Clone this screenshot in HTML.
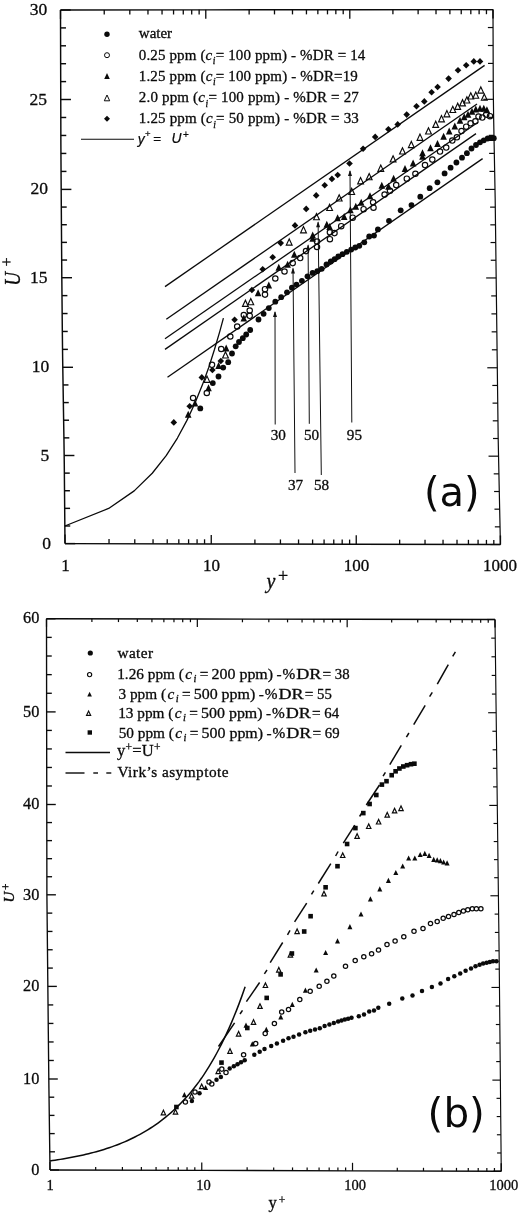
<!DOCTYPE html>
<html lang="en"><head><meta charset="utf-8"><title>Velocity profiles</title>
<style>html,body{margin:0;padding:0;background:#fff}svg{display:block}</style></head>
<body>
<svg width="520" height="1213" viewBox="0 0 520 1213" role="img" aria-label="Mean velocity profiles in wall units">
<rect width="520" height="1213" fill="#fff"/>
<polyline points="65.00,543.60 64.76,517.17 64.52,490.74 64.28,464.31 63.92,437.86 63.49,411.40 63.07,384.94 62.64,358.34 62.33,331.46 62.07,304.58 61.82,277.70 61.62,251.21 61.43,224.72 61.24,198.23 61.05,171.42 60.88,144.45 60.81,117.48 60.73,90.55 60.65,63.70 60.58,36.85 60.50,10.00" fill="none" stroke="#0a0a0a" stroke-width="1.45" stroke-linejoin="round" />
<polyline points="500.41,544.50 499.85,518.01 499.29,491.51 498.73,465.01 498.18,438.50 497.85,411.97 497.52,385.45 497.18,358.79 496.85,331.84 496.51,304.89 496.17,277.95 495.84,251.39 495.51,224.84 495.17,198.29 494.66,171.41 494.14,144.38 493.63,117.34 493.27,90.34 493.18,63.43 493.09,36.52 493.00,9.60" fill="none" stroke="#0a0a0a" stroke-width="1.2" stroke-linejoin="round" />
<polyline points="65.00,543.60 211.25,543.90 356.24,544.20 500.41,544.50" fill="none" stroke="#0a0a0a" stroke-width="1.45" stroke-linejoin="round" />
<polyline points="60.50,10.00 205.78,9.87 349.80,9.73 493.00,9.60" fill="none" stroke="#0a0a0a" stroke-width="1.45" stroke-linejoin="round" />
<line x1="65.00" y1="543.60" x2="75.20" y2="543.60" stroke="#0a0a0a" stroke-width="1.45" />
<line x1="500.41" y1="544.50" x2="490.41" y2="544.50" stroke="#0a0a0a" stroke-width="1.2" />
<line x1="64.84" y1="525.98" x2="70.24" y2="525.98" stroke="#0a0a0a" stroke-width="1.45" />
<line x1="500.04" y1="526.84" x2="494.84" y2="526.84" stroke="#0a0a0a" stroke-width="1.2" />
<line x1="64.68" y1="508.36" x2="70.08" y2="508.36" stroke="#0a0a0a" stroke-width="1.45" />
<line x1="499.66" y1="509.17" x2="494.46" y2="509.17" stroke="#0a0a0a" stroke-width="1.2" />
<line x1="64.52" y1="490.74" x2="69.92" y2="490.74" stroke="#0a0a0a" stroke-width="1.45" />
<line x1="499.29" y1="491.51" x2="494.09" y2="491.51" stroke="#0a0a0a" stroke-width="1.2" />
<line x1="64.36" y1="473.12" x2="69.76" y2="473.12" stroke="#0a0a0a" stroke-width="1.45" />
<line x1="498.92" y1="473.85" x2="493.72" y2="473.85" stroke="#0a0a0a" stroke-width="1.2" />
<line x1="64.20" y1="455.50" x2="74.40" y2="455.50" stroke="#0a0a0a" stroke-width="1.45" />
<line x1="498.54" y1="456.18" x2="488.54" y2="456.18" stroke="#0a0a0a" stroke-width="1.2" />
<line x1="63.92" y1="437.86" x2="69.32" y2="437.86" stroke="#0a0a0a" stroke-width="1.45" />
<line x1="498.18" y1="438.50" x2="492.98" y2="438.50" stroke="#0a0a0a" stroke-width="1.2" />
<line x1="63.64" y1="420.22" x2="69.04" y2="420.22" stroke="#0a0a0a" stroke-width="1.45" />
<line x1="497.96" y1="420.82" x2="492.76" y2="420.82" stroke="#0a0a0a" stroke-width="1.2" />
<line x1="63.35" y1="402.58" x2="68.75" y2="402.58" stroke="#0a0a0a" stroke-width="1.45" />
<line x1="497.74" y1="403.13" x2="492.54" y2="403.13" stroke="#0a0a0a" stroke-width="1.2" />
<line x1="63.07" y1="384.94" x2="68.47" y2="384.94" stroke="#0a0a0a" stroke-width="1.45" />
<line x1="497.52" y1="385.45" x2="492.32" y2="385.45" stroke="#0a0a0a" stroke-width="1.2" />
<line x1="62.78" y1="367.30" x2="72.98" y2="367.30" stroke="#0a0a0a" stroke-width="1.45" />
<line x1="497.30" y1="367.77" x2="487.30" y2="367.77" stroke="#0a0a0a" stroke-width="1.2" />
<line x1="62.49" y1="349.38" x2="67.89" y2="349.38" stroke="#0a0a0a" stroke-width="1.45" />
<line x1="497.07" y1="349.80" x2="491.87" y2="349.80" stroke="#0a0a0a" stroke-width="1.2" />
<line x1="62.33" y1="331.46" x2="67.73" y2="331.46" stroke="#0a0a0a" stroke-width="1.45" />
<line x1="496.85" y1="331.84" x2="491.65" y2="331.84" stroke="#0a0a0a" stroke-width="1.2" />
<line x1="62.16" y1="313.54" x2="67.56" y2="313.54" stroke="#0a0a0a" stroke-width="1.45" />
<line x1="496.62" y1="313.88" x2="491.42" y2="313.88" stroke="#0a0a0a" stroke-width="1.2" />
<line x1="61.99" y1="295.62" x2="67.39" y2="295.62" stroke="#0a0a0a" stroke-width="1.45" />
<line x1="496.40" y1="295.91" x2="491.20" y2="295.91" stroke="#0a0a0a" stroke-width="1.2" />
<line x1="61.82" y1="277.70" x2="72.02" y2="277.70" stroke="#0a0a0a" stroke-width="1.45" />
<line x1="496.17" y1="277.95" x2="486.17" y2="277.95" stroke="#0a0a0a" stroke-width="1.2" />
<line x1="61.68" y1="260.04" x2="67.08" y2="260.04" stroke="#0a0a0a" stroke-width="1.45" />
<line x1="495.95" y1="260.25" x2="490.75" y2="260.25" stroke="#0a0a0a" stroke-width="1.2" />
<line x1="61.55" y1="242.38" x2="66.95" y2="242.38" stroke="#0a0a0a" stroke-width="1.45" />
<line x1="495.73" y1="242.54" x2="490.53" y2="242.54" stroke="#0a0a0a" stroke-width="1.2" />
<line x1="61.43" y1="224.72" x2="66.83" y2="224.72" stroke="#0a0a0a" stroke-width="1.45" />
<line x1="495.51" y1="224.84" x2="490.31" y2="224.84" stroke="#0a0a0a" stroke-width="1.2" />
<line x1="61.30" y1="207.06" x2="66.70" y2="207.06" stroke="#0a0a0a" stroke-width="1.45" />
<line x1="495.29" y1="207.14" x2="490.09" y2="207.14" stroke="#0a0a0a" stroke-width="1.2" />
<line x1="61.18" y1="189.40" x2="71.38" y2="189.40" stroke="#0a0a0a" stroke-width="1.45" />
<line x1="495.00" y1="189.43" x2="485.00" y2="189.43" stroke="#0a0a0a" stroke-width="1.2" />
<line x1="61.05" y1="171.42" x2="66.45" y2="171.42" stroke="#0a0a0a" stroke-width="1.45" />
<line x1="494.66" y1="171.41" x2="489.46" y2="171.41" stroke="#0a0a0a" stroke-width="1.2" />
<line x1="60.92" y1="153.44" x2="66.32" y2="153.44" stroke="#0a0a0a" stroke-width="1.45" />
<line x1="494.31" y1="153.39" x2="489.11" y2="153.39" stroke="#0a0a0a" stroke-width="1.2" />
<line x1="60.86" y1="135.46" x2="66.26" y2="135.46" stroke="#0a0a0a" stroke-width="1.45" />
<line x1="493.97" y1="135.36" x2="488.77" y2="135.36" stroke="#0a0a0a" stroke-width="1.2" />
<line x1="60.81" y1="117.48" x2="66.21" y2="117.48" stroke="#0a0a0a" stroke-width="1.45" />
<line x1="493.63" y1="117.34" x2="488.43" y2="117.34" stroke="#0a0a0a" stroke-width="1.2" />
<line x1="60.76" y1="99.50" x2="70.96" y2="99.50" stroke="#0a0a0a" stroke-width="1.45" />
<line x1="493.30" y1="99.32" x2="483.30" y2="99.32" stroke="#0a0a0a" stroke-width="1.2" />
<line x1="60.70" y1="81.60" x2="66.10" y2="81.60" stroke="#0a0a0a" stroke-width="1.45" />
<line x1="493.24" y1="81.37" x2="488.04" y2="81.37" stroke="#0a0a0a" stroke-width="1.2" />
<line x1="60.65" y1="63.70" x2="66.05" y2="63.70" stroke="#0a0a0a" stroke-width="1.45" />
<line x1="493.18" y1="63.43" x2="487.98" y2="63.43" stroke="#0a0a0a" stroke-width="1.2" />
<line x1="60.60" y1="45.80" x2="66.00" y2="45.80" stroke="#0a0a0a" stroke-width="1.45" />
<line x1="493.12" y1="45.49" x2="487.92" y2="45.49" stroke="#0a0a0a" stroke-width="1.2" />
<line x1="60.55" y1="27.90" x2="65.95" y2="27.90" stroke="#0a0a0a" stroke-width="1.45" />
<line x1="493.06" y1="27.54" x2="487.86" y2="27.54" stroke="#0a0a0a" stroke-width="1.2" />
<line x1="60.50" y1="10.00" x2="70.70" y2="10.00" stroke="#0a0a0a" stroke-width="1.45" />
<line x1="493.00" y1="9.60" x2="483.00" y2="9.60" stroke="#0a0a0a" stroke-width="1.2" />
<line x1="65.00" y1="543.60" x2="65.00" y2="534.60" stroke="#0a0a0a" stroke-width="1.305" />
<line x1="60.50" y1="10.00" x2="60.50" y2="19.00" stroke="#0a0a0a" stroke-width="1.305" />
<line x1="109.03" y1="543.69" x2="109.03" y2="539.09" stroke="#0a0a0a" stroke-width="1.305" />
<line x1="104.23" y1="9.96" x2="104.23" y2="14.56" stroke="#0a0a0a" stroke-width="1.305" />
<line x1="134.78" y1="543.74" x2="134.78" y2="539.14" stroke="#0a0a0a" stroke-width="1.305" />
<line x1="129.81" y1="9.94" x2="129.81" y2="14.54" stroke="#0a0a0a" stroke-width="1.305" />
<line x1="153.05" y1="543.78" x2="153.05" y2="539.18" stroke="#0a0a0a" stroke-width="1.305" />
<line x1="147.97" y1="9.92" x2="147.97" y2="14.52" stroke="#0a0a0a" stroke-width="1.305" />
<line x1="167.23" y1="543.81" x2="167.23" y2="539.21" stroke="#0a0a0a" stroke-width="1.305" />
<line x1="162.04" y1="9.91" x2="162.04" y2="14.51" stroke="#0a0a0a" stroke-width="1.305" />
<line x1="178.81" y1="543.84" x2="178.81" y2="539.24" stroke="#0a0a0a" stroke-width="1.305" />
<line x1="173.55" y1="9.90" x2="173.55" y2="14.50" stroke="#0a0a0a" stroke-width="1.305" />
<line x1="188.60" y1="543.86" x2="188.60" y2="539.26" stroke="#0a0a0a" stroke-width="1.305" />
<line x1="183.27" y1="9.89" x2="183.27" y2="14.49" stroke="#0a0a0a" stroke-width="1.305" />
<line x1="197.08" y1="543.87" x2="197.08" y2="539.27" stroke="#0a0a0a" stroke-width="1.305" />
<line x1="191.70" y1="9.88" x2="191.70" y2="14.48" stroke="#0a0a0a" stroke-width="1.305" />
<line x1="204.56" y1="543.89" x2="204.56" y2="539.29" stroke="#0a0a0a" stroke-width="1.305" />
<line x1="199.13" y1="9.87" x2="199.13" y2="14.47" stroke="#0a0a0a" stroke-width="1.305" />
<line x1="211.25" y1="543.90" x2="211.25" y2="534.90" stroke="#0a0a0a" stroke-width="1.305" />
<line x1="205.78" y1="9.87" x2="205.78" y2="18.87" stroke="#0a0a0a" stroke-width="1.305" />
<line x1="254.90" y1="543.99" x2="254.90" y2="539.39" stroke="#0a0a0a" stroke-width="1.305" />
<line x1="249.13" y1="9.83" x2="249.13" y2="14.43" stroke="#0a0a0a" stroke-width="1.305" />
<line x1="280.43" y1="544.05" x2="280.43" y2="539.45" stroke="#0a0a0a" stroke-width="1.305" />
<line x1="274.49" y1="9.80" x2="274.49" y2="14.40" stroke="#0a0a0a" stroke-width="1.305" />
<line x1="298.55" y1="544.08" x2="298.55" y2="539.48" stroke="#0a0a0a" stroke-width="1.305" />
<line x1="292.49" y1="9.79" x2="292.49" y2="14.39" stroke="#0a0a0a" stroke-width="1.305" />
<line x1="312.60" y1="544.11" x2="312.60" y2="539.51" stroke="#0a0a0a" stroke-width="1.305" />
<line x1="306.44" y1="9.77" x2="306.44" y2="14.37" stroke="#0a0a0a" stroke-width="1.305" />
<line x1="324.08" y1="544.14" x2="324.08" y2="539.54" stroke="#0a0a0a" stroke-width="1.305" />
<line x1="317.85" y1="9.76" x2="317.85" y2="14.36" stroke="#0a0a0a" stroke-width="1.305" />
<line x1="333.78" y1="544.16" x2="333.78" y2="539.56" stroke="#0a0a0a" stroke-width="1.305" />
<line x1="327.49" y1="9.75" x2="327.49" y2="14.35" stroke="#0a0a0a" stroke-width="1.305" />
<line x1="342.19" y1="544.17" x2="342.19" y2="539.57" stroke="#0a0a0a" stroke-width="1.305" />
<line x1="335.84" y1="9.75" x2="335.84" y2="14.35" stroke="#0a0a0a" stroke-width="1.305" />
<line x1="349.61" y1="544.19" x2="349.61" y2="539.59" stroke="#0a0a0a" stroke-width="1.305" />
<line x1="343.21" y1="9.74" x2="343.21" y2="14.34" stroke="#0a0a0a" stroke-width="1.305" />
<line x1="356.24" y1="544.20" x2="356.24" y2="535.20" stroke="#0a0a0a" stroke-width="1.305" />
<line x1="349.80" y1="9.73" x2="349.80" y2="18.73" stroke="#0a0a0a" stroke-width="1.305" />
<line x1="399.64" y1="544.29" x2="399.64" y2="539.69" stroke="#0a0a0a" stroke-width="1.305" />
<line x1="392.91" y1="9.69" x2="392.91" y2="14.29" stroke="#0a0a0a" stroke-width="1.305" />
<line x1="425.03" y1="544.34" x2="425.03" y2="539.74" stroke="#0a0a0a" stroke-width="1.305" />
<line x1="418.12" y1="9.67" x2="418.12" y2="14.27" stroke="#0a0a0a" stroke-width="1.305" />
<line x1="443.04" y1="544.38" x2="443.04" y2="539.78" stroke="#0a0a0a" stroke-width="1.305" />
<line x1="436.01" y1="9.65" x2="436.01" y2="14.25" stroke="#0a0a0a" stroke-width="1.305" />
<line x1="457.01" y1="544.41" x2="457.01" y2="539.81" stroke="#0a0a0a" stroke-width="1.305" />
<line x1="449.89" y1="9.64" x2="449.89" y2="14.24" stroke="#0a0a0a" stroke-width="1.305" />
<line x1="468.43" y1="544.43" x2="468.43" y2="539.83" stroke="#0a0a0a" stroke-width="1.305" />
<line x1="461.23" y1="9.63" x2="461.23" y2="14.23" stroke="#0a0a0a" stroke-width="1.305" />
<line x1="478.08" y1="544.45" x2="478.08" y2="539.85" stroke="#0a0a0a" stroke-width="1.305" />
<line x1="470.82" y1="9.62" x2="470.82" y2="14.22" stroke="#0a0a0a" stroke-width="1.305" />
<line x1="486.44" y1="544.47" x2="486.44" y2="539.87" stroke="#0a0a0a" stroke-width="1.305" />
<line x1="479.12" y1="9.61" x2="479.12" y2="14.21" stroke="#0a0a0a" stroke-width="1.305" />
<line x1="493.81" y1="544.49" x2="493.81" y2="539.89" stroke="#0a0a0a" stroke-width="1.305" />
<line x1="486.45" y1="9.61" x2="486.45" y2="14.21" stroke="#0a0a0a" stroke-width="1.305" />
<line x1="500.41" y1="544.50" x2="500.41" y2="535.50" stroke="#0a0a0a" stroke-width="1.45" />
<line x1="493.00" y1="9.60" x2="493.00" y2="18.60" stroke="#0a0a0a" stroke-width="1.45" />
<text x="47.30" y="15.10" font-family="'Liberation Serif','DejaVu Serif',serif" font-size="17.5" text-anchor="end" fill="#0a0a0a" stroke="#0a0a0a" stroke-width="0.3"  >30</text>
<text x="46.90" y="105.00" font-family="'Liberation Serif','DejaVu Serif',serif" font-size="17.5" text-anchor="end" fill="#0a0a0a" stroke="#0a0a0a" stroke-width="0.3"  >25</text>
<text x="47.90" y="193.80" font-family="'Liberation Serif','DejaVu Serif',serif" font-size="17.5" text-anchor="end" fill="#0a0a0a" stroke="#0a0a0a" stroke-width="0.3"  >20</text>
<text x="47.50" y="282.70" font-family="'Liberation Serif','DejaVu Serif',serif" font-size="17.5" text-anchor="end" fill="#0a0a0a" stroke="#0a0a0a" stroke-width="0.3"  >15</text>
<text x="49.20" y="371.60" font-family="'Liberation Serif','DejaVu Serif',serif" font-size="17.5" text-anchor="end" fill="#0a0a0a" stroke="#0a0a0a" stroke-width="0.3"  >10</text>
<text x="49.20" y="461.00" font-family="'Liberation Serif','DejaVu Serif',serif" font-size="17.5" text-anchor="end" fill="#0a0a0a" stroke="#0a0a0a" stroke-width="0.3"  >5</text>
<text x="51.00" y="548.50" font-family="'Liberation Serif','DejaVu Serif',serif" font-size="17.5" text-anchor="end" fill="#0a0a0a" stroke="#0a0a0a" stroke-width="0.3"  >0</text>
<text x="65.50" y="570.60" font-family="'Liberation Serif','DejaVu Serif',serif" font-size="17" text-anchor="middle" fill="#0a0a0a" stroke="#0a0a0a" stroke-width="0.3"  >1</text>
<text x="211.60" y="570.60" font-family="'Liberation Serif','DejaVu Serif',serif" font-size="17" text-anchor="middle" fill="#0a0a0a" stroke="#0a0a0a" stroke-width="0.3"  >10</text>
<text x="356.60" y="570.60" font-family="'Liberation Serif','DejaVu Serif',serif" font-size="17" text-anchor="middle" fill="#0a0a0a" stroke="#0a0a0a" stroke-width="0.3"  >100</text>
<text x="500.00" y="570.60" font-family="'Liberation Serif','DejaVu Serif',serif" font-size="17" text-anchor="middle" fill="#0a0a0a" stroke="#0a0a0a" stroke-width="0.3"  >1000</text>
<g transform="translate(20.0,285.8) rotate(-90)"><text x="0" y="0" transform="scale(1,1.17)" font-family="'Liberation Serif',serif" font-size="19" font-style="italic" fill="#0a0a0a" stroke="#0a0a0a" stroke-width="0.3">U</text><text x="19.4" y="-8.0" font-family="'Liberation Serif',serif" font-size="16" fill="#0a0a0a" stroke="#0a0a0a" stroke-width="0.3">+</text></g>
<text x="266.5" y="588.0" font-family="'Liberation Serif',serif" font-size="20" font-style="italic" fill="#0a0a0a" stroke="#0a0a0a" stroke-width="0.3">y<tspan dx="2.5" dy="-6.5" font-size="18" font-style="normal">+</tspan></text>
<line x1="165.00" y1="286.60" x2="484.60" y2="65.40" stroke="#0a0a0a" stroke-width="1.3" />
<line x1="166.30" y1="319.30" x2="477.00" y2="104.00" stroke="#0a0a0a" stroke-width="1.3" />
<line x1="165.00" y1="338.80" x2="478.00" y2="122.20" stroke="#0a0a0a" stroke-width="1.3" />
<line x1="165.00" y1="349.40" x2="476.00" y2="133.60" stroke="#0a0a0a" stroke-width="1.3" />
<line x1="167.50" y1="377.30" x2="482.60" y2="158.60" stroke="#0a0a0a" stroke-width="1.3" />
<polyline points="64.84,525.98 108.66,508.44 134.20,490.86 152.24,473.27 166.18,455.66 177.43,438.03 186.93,420.39 195.12,402.75 202.32,385.10 208.73,367.46 214.46,349.53 219.74,331.60 223.41,318.15" fill="none" stroke="#0a0a0a" stroke-width="1.3" stroke-linejoin="round" />
<line x1="275.20" y1="424.50" x2="275.00" y2="312.00" stroke="#111" stroke-width="1.0" />
<polygon points="275.0,311.0 273.0,317.0 277.0,317.0" fill="#111"/>
<line x1="295.00" y1="473.00" x2="293.00" y2="268.50" stroke="#111" stroke-width="1.0" />
<polygon points="293.0,267.5 291.0,273.5 295.0,273.5" fill="#111"/>
<line x1="309.30" y1="423.80" x2="308.10" y2="245.30" stroke="#111" stroke-width="1.0" />
<polygon points="308.1,244.3 306.1,250.3 310.1,250.3" fill="#111"/>
<line x1="321.30" y1="475.00" x2="318.10" y2="222.30" stroke="#111" stroke-width="1.0" />
<polygon points="318.1,221.3 316.1,227.3 320.1,227.3" fill="#111"/>
<line x1="351.80" y1="422.50" x2="350.00" y2="171.00" stroke="#111" stroke-width="1.0" />
<polygon points="350.0,170.0 348.0,176.0 352.0,176.0" fill="#111"/>
<text x="278.30" y="439.80" font-family="'Liberation Serif','DejaVu Serif',serif" font-size="15.2" text-anchor="middle" fill="#0a0a0a" stroke="#0a0a0a" stroke-width="0.3"  >30</text>
<text x="311.60" y="439.80" font-family="'Liberation Serif','DejaVu Serif',serif" font-size="15.2" text-anchor="middle" fill="#0a0a0a" stroke="#0a0a0a" stroke-width="0.3"  >50</text>
<text x="354.40" y="439.80" font-family="'Liberation Serif','DejaVu Serif',serif" font-size="15.2" text-anchor="middle" fill="#0a0a0a" stroke="#0a0a0a" stroke-width="0.3"  >95</text>
<text x="295.50" y="490.00" font-family="'Liberation Serif','DejaVu Serif',serif" font-size="15.2" text-anchor="middle" fill="#0a0a0a" stroke="#0a0a0a" stroke-width="0.3"  >37</text>
<text x="321.60" y="490.00" font-family="'Liberation Serif','DejaVu Serif',serif" font-size="15.2" text-anchor="middle" fill="#0a0a0a" stroke="#0a0a0a" stroke-width="0.3"  >58</text>
<circle cx="193.1" cy="398.0" r="2.7" fill="none" stroke="#0a0a0a" stroke-width="1.15"/>
<circle cx="206.8" cy="393.0" r="2.7" fill="none" stroke="#0a0a0a" stroke-width="1.15"/>
<circle cx="212.0" cy="364.8" r="2.7" fill="none" stroke="#0a0a0a" stroke-width="1.15"/>
<circle cx="221.2" cy="349.0" r="2.7" fill="none" stroke="#0a0a0a" stroke-width="1.15"/>
<circle cx="230.3" cy="336.5" r="2.7" fill="none" stroke="#0a0a0a" stroke-width="1.15"/>
<circle cx="237.2" cy="326.5" r="2.7" fill="none" stroke="#0a0a0a" stroke-width="1.15"/>
<circle cx="243.8" cy="315.0" r="2.7" fill="none" stroke="#0a0a0a" stroke-width="1.15"/>
<circle cx="249.7" cy="315.8" r="2.7" fill="none" stroke="#0a0a0a" stroke-width="1.15"/>
<circle cx="249.7" cy="310.5" r="2.7" fill="none" stroke="#0a0a0a" stroke-width="1.15"/>
<circle cx="265.0" cy="294.6" r="2.7" fill="none" stroke="#0a0a0a" stroke-width="1.15"/>
<circle cx="265.0" cy="289.2" r="2.7" fill="none" stroke="#0a0a0a" stroke-width="1.15"/>
<circle cx="275.3" cy="278.5" r="2.7" fill="none" stroke="#0a0a0a" stroke-width="1.15"/>
<circle cx="284.5" cy="271.5" r="2.7" fill="none" stroke="#0a0a0a" stroke-width="1.15"/>
<circle cx="292.7" cy="263.1" r="2.7" fill="none" stroke="#0a0a0a" stroke-width="1.15"/>
<circle cx="300.2" cy="258.0" r="2.7" fill="none" stroke="#0a0a0a" stroke-width="1.15"/>
<circle cx="306.0" cy="251.1" r="2.7" fill="none" stroke="#0a0a0a" stroke-width="1.15"/>
<circle cx="317.0" cy="246.9" r="2.7" fill="none" stroke="#0a0a0a" stroke-width="1.15"/>
<circle cx="317.0" cy="241.5" r="2.7" fill="none" stroke="#0a0a0a" stroke-width="1.15"/>
<circle cx="329.9" cy="239.2" r="2.7" fill="none" stroke="#0a0a0a" stroke-width="1.15"/>
<circle cx="329.9" cy="232.3" r="2.7" fill="none" stroke="#0a0a0a" stroke-width="1.15"/>
<circle cx="334.5" cy="233.1" r="2.7" fill="none" stroke="#0a0a0a" stroke-width="1.15"/>
<circle cx="341.2" cy="226.2" r="2.7" fill="none" stroke="#0a0a0a" stroke-width="1.15"/>
<circle cx="352.7" cy="217.7" r="2.7" fill="none" stroke="#0a0a0a" stroke-width="1.15"/>
<circle cx="363.6" cy="209.2" r="2.7" fill="none" stroke="#0a0a0a" stroke-width="1.15"/>
<circle cx="373.1" cy="202.3" r="2.7" fill="none" stroke="#0a0a0a" stroke-width="1.15"/>
<circle cx="373.5" cy="207.7" r="2.7" fill="none" stroke="#0a0a0a" stroke-width="1.15"/>
<circle cx="384.6" cy="194.6" r="2.7" fill="none" stroke="#0a0a0a" stroke-width="1.15"/>
<circle cx="390.0" cy="190.8" r="2.7" fill="none" stroke="#0a0a0a" stroke-width="1.15"/>
<circle cx="396.2" cy="185.0" r="2.7" fill="none" stroke="#0a0a0a" stroke-width="1.15"/>
<circle cx="406.8" cy="178.7" r="2.7" fill="none" stroke="#0a0a0a" stroke-width="1.15"/>
<circle cx="415.4" cy="173.8" r="2.7" fill="none" stroke="#0a0a0a" stroke-width="1.15"/>
<circle cx="425.0" cy="165.0" r="2.7" fill="none" stroke="#0a0a0a" stroke-width="1.15"/>
<circle cx="432.3" cy="159.6" r="2.7" fill="none" stroke="#0a0a0a" stroke-width="1.15"/>
<circle cx="440.0" cy="151.5" r="2.7" fill="none" stroke="#0a0a0a" stroke-width="1.15"/>
<circle cx="446.2" cy="147.5" r="2.7" fill="none" stroke="#0a0a0a" stroke-width="1.15"/>
<circle cx="452.3" cy="140.5" r="2.7" fill="none" stroke="#0a0a0a" stroke-width="1.15"/>
<circle cx="456.9" cy="137.3" r="2.7" fill="none" stroke="#0a0a0a" stroke-width="1.15"/>
<circle cx="461.5" cy="131.0" r="2.7" fill="none" stroke="#0a0a0a" stroke-width="1.15"/>
<circle cx="466.2" cy="126.7" r="2.7" fill="none" stroke="#0a0a0a" stroke-width="1.15"/>
<circle cx="470.6" cy="123.3" r="2.7" fill="none" stroke="#0a0a0a" stroke-width="1.15"/>
<circle cx="475.4" cy="121.3" r="2.7" fill="none" stroke="#0a0a0a" stroke-width="1.15"/>
<circle cx="478.5" cy="116.5" r="2.7" fill="none" stroke="#0a0a0a" stroke-width="1.15"/>
<circle cx="482.3" cy="117.5" r="2.7" fill="none" stroke="#0a0a0a" stroke-width="1.15"/>
<circle cx="486.2" cy="114.6" r="2.7" fill="none" stroke="#0a0a0a" stroke-width="1.15"/>
<circle cx="490.0" cy="116.2" r="2.7" fill="none" stroke="#0a0a0a" stroke-width="1.15"/>
<polygon points="207.0,376.1 204.1,382.3 209.9,382.3" fill="none" stroke="#0a0a0a" stroke-width="1.15" stroke-linejoin="miter"/>
<polygon points="225.5,351.8 222.6,358.0 228.4,358.0" fill="none" stroke="#0a0a0a" stroke-width="1.15" stroke-linejoin="miter"/>
<polygon points="245.4,300.2 242.5,306.4 248.3,306.4" fill="none" stroke="#0a0a0a" stroke-width="1.15" stroke-linejoin="miter"/>
<polygon points="250.8,298.5 247.9,304.7 253.7,304.7" fill="none" stroke="#0a0a0a" stroke-width="1.15" stroke-linejoin="miter"/>
<polygon points="289.2,238.9 286.3,245.1 292.1,245.1" fill="none" stroke="#0a0a0a" stroke-width="1.15" stroke-linejoin="miter"/>
<polygon points="303.5,226.6 300.6,232.8 306.4,232.8" fill="none" stroke="#0a0a0a" stroke-width="1.15" stroke-linejoin="miter"/>
<polygon points="316.5,213.5 313.6,219.7 319.4,219.7" fill="none" stroke="#0a0a0a" stroke-width="1.15" stroke-linejoin="miter"/>
<polygon points="329.6,204.3 326.7,210.5 332.5,210.5" fill="none" stroke="#0a0a0a" stroke-width="1.15" stroke-linejoin="miter"/>
<polygon points="339.2,194.8 336.3,201.0 342.1,201.0" fill="none" stroke="#0a0a0a" stroke-width="1.15" stroke-linejoin="miter"/>
<polygon points="351.7,188.3 348.8,194.5 354.6,194.5" fill="none" stroke="#0a0a0a" stroke-width="1.15" stroke-linejoin="miter"/>
<polygon points="360.6,177.6 357.7,183.8 363.5,183.8" fill="none" stroke="#0a0a0a" stroke-width="1.15" stroke-linejoin="miter"/>
<polygon points="369.2,173.5 366.3,179.7 372.1,179.7" fill="none" stroke="#0a0a0a" stroke-width="1.15" stroke-linejoin="miter"/>
<polygon points="380.8,165.1 377.9,171.3 383.7,171.3" fill="none" stroke="#0a0a0a" stroke-width="1.15" stroke-linejoin="miter"/>
<polygon points="393.1,155.8 390.2,162.0 396.0,162.0" fill="none" stroke="#0a0a0a" stroke-width="1.15" stroke-linejoin="miter"/>
<polygon points="402.5,147.8 399.6,154.0 405.4,154.0" fill="none" stroke="#0a0a0a" stroke-width="1.15" stroke-linejoin="miter"/>
<polygon points="411.3,141.4 408.4,147.6 414.2,147.6" fill="none" stroke="#0a0a0a" stroke-width="1.15" stroke-linejoin="miter"/>
<polygon points="420.0,134.1 417.1,140.3 422.9,140.3" fill="none" stroke="#0a0a0a" stroke-width="1.15" stroke-linejoin="miter"/>
<polygon points="428.5,127.8 425.6,134.0 431.4,134.0" fill="none" stroke="#0a0a0a" stroke-width="1.15" stroke-linejoin="miter"/>
<polygon points="435.7,121.2 432.8,127.4 438.6,127.4" fill="none" stroke="#0a0a0a" stroke-width="1.15" stroke-linejoin="miter"/>
<polygon points="441.5,115.6 438.6,121.8 444.4,121.8" fill="none" stroke="#0a0a0a" stroke-width="1.15" stroke-linejoin="miter"/>
<polygon points="446.9,110.6 444.0,116.8 449.8,116.8" fill="none" stroke="#0a0a0a" stroke-width="1.15" stroke-linejoin="miter"/>
<polygon points="452.8,106.3 449.9,112.5 455.7,112.5" fill="none" stroke="#0a0a0a" stroke-width="1.15" stroke-linejoin="miter"/>
<polygon points="457.7,103.2 454.8,109.4 460.6,109.4" fill="none" stroke="#0a0a0a" stroke-width="1.15" stroke-linejoin="miter"/>
<polygon points="462.5,99.7 459.6,105.9 465.4,105.9" fill="none" stroke="#0a0a0a" stroke-width="1.15" stroke-linejoin="miter"/>
<polygon points="466.9,96.8 464.0,103.0 469.8,103.0" fill="none" stroke="#0a0a0a" stroke-width="1.15" stroke-linejoin="miter"/>
<polygon points="470.8,92.8 467.9,99.0 473.7,99.0" fill="none" stroke="#0a0a0a" stroke-width="1.15" stroke-linejoin="miter"/>
<polygon points="475.8,92.0 472.9,98.2 478.7,98.2" fill="none" stroke="#0a0a0a" stroke-width="1.15" stroke-linejoin="miter"/>
<polygon points="480.8,86.9 477.9,93.1 483.7,93.1" fill="none" stroke="#0a0a0a" stroke-width="1.15" stroke-linejoin="miter"/>
<polygon points="484.3,94.0 481.4,100.2 487.2,100.2" fill="none" stroke="#0a0a0a" stroke-width="1.15" stroke-linejoin="miter"/>
<polygon points="188.2,410.8 184.9,417.8 191.5,417.8" fill="#0a0a0a"/>
<polygon points="195.0,399.6 191.7,406.6 198.3,406.6" fill="#0a0a0a"/>
<polygon points="208.5,384.3 205.2,391.3 211.8,391.3" fill="#0a0a0a"/>
<polygon points="218.6,362.1 215.3,369.1 221.9,369.1" fill="#0a0a0a"/>
<polygon points="226.2,344.4 222.9,351.4 229.5,351.4" fill="#0a0a0a"/>
<polygon points="243.8,314.6 240.5,321.6 247.1,321.6" fill="#0a0a0a"/>
<polygon points="258.1,289.2 254.8,296.2 261.4,296.2" fill="#0a0a0a"/>
<polygon points="268.8,281.5 265.5,288.5 272.1,288.5" fill="#0a0a0a"/>
<polygon points="278.8,263.8 275.5,270.8 282.1,270.8" fill="#0a0a0a"/>
<polygon points="287.6,260.8 284.3,267.8 290.9,267.8" fill="#0a0a0a"/>
<polygon points="294.3,250.8 291.0,257.8 297.6,257.8" fill="#0a0a0a"/>
<polygon points="312.7,231.6 309.4,238.6 316.0,238.6" fill="#0a0a0a"/>
<polygon points="312.7,234.7 309.4,241.7 316.0,241.7" fill="#0a0a0a"/>
<polygon points="326.8,220.8 323.5,227.8 330.1,227.8" fill="#0a0a0a"/>
<polygon points="329.6,223.1 326.3,230.1 332.9,230.1" fill="#0a0a0a"/>
<polygon points="337.6,214.3 334.3,221.3 340.9,221.3" fill="#0a0a0a"/>
<polygon points="344.2,213.1 340.9,220.1 347.5,220.1" fill="#0a0a0a"/>
<polygon points="350.4,206.2 347.1,213.2 353.7,213.2" fill="#0a0a0a"/>
<polygon points="355.8,202.8 352.5,209.8 359.1,209.8" fill="#0a0a0a"/>
<polygon points="361.2,198.7 357.9,205.7 364.5,205.7" fill="#0a0a0a"/>
<polygon points="370.0,192.3 366.7,199.3 373.3,199.3" fill="#0a0a0a"/>
<polygon points="381.8,181.8 378.5,188.8 385.1,188.8" fill="#0a0a0a"/>
<polygon points="388.5,182.8 385.2,189.8 391.8,189.8" fill="#0a0a0a"/>
<polygon points="393.6,174.7 390.3,181.7 396.9,181.7" fill="#0a0a0a"/>
<polygon points="405.0,165.0 401.7,172.0 408.3,172.0" fill="#0a0a0a"/>
<polygon points="413.1,159.6 409.8,166.6 416.4,166.6" fill="#0a0a0a"/>
<polygon points="422.5,149.2 419.2,156.2 425.8,156.2" fill="#0a0a0a"/>
<polygon points="422.5,152.7 419.2,159.7 425.8,159.7" fill="#0a0a0a"/>
<polygon points="430.5,144.3 427.2,151.3 433.8,151.3" fill="#0a0a0a"/>
<polygon points="437.5,140.0 434.2,147.0 440.8,147.0" fill="#0a0a0a"/>
<polygon points="443.6,132.8 440.3,139.8 446.9,139.8" fill="#0a0a0a"/>
<polygon points="449.2,127.5 445.9,134.5 452.5,134.5" fill="#0a0a0a"/>
<polygon points="454.8,122.6 451.5,129.6 458.1,129.6" fill="#0a0a0a"/>
<polygon points="460.0,116.8 456.7,123.8 463.3,123.8" fill="#0a0a0a"/>
<polygon points="464.2,113.2 460.9,120.2 467.5,120.2" fill="#0a0a0a"/>
<polygon points="468.0,110.8 464.7,117.8 471.3,117.8" fill="#0a0a0a"/>
<polygon points="472.0,107.7 468.7,114.7 475.3,114.7" fill="#0a0a0a"/>
<polygon points="475.8,105.4 472.5,112.4 479.1,112.4" fill="#0a0a0a"/>
<polygon points="480.0,104.7 476.7,111.7 483.3,111.7" fill="#0a0a0a"/>
<polygon points="483.8,104.7 480.5,111.7 487.1,111.7" fill="#0a0a0a"/>
<polygon points="486.9,106.2 483.6,113.2 490.2,113.2" fill="#0a0a0a"/>
<circle cx="200.3" cy="408.4" r="2.9" fill="#0a0a0a"/>
<circle cx="212.8" cy="383.1" r="2.9" fill="#0a0a0a"/>
<circle cx="218.5" cy="376.5" r="2.9" fill="#0a0a0a"/>
<circle cx="223.2" cy="367.6" r="2.9" fill="#0a0a0a"/>
<circle cx="228.2" cy="362.2" r="2.9" fill="#0a0a0a"/>
<circle cx="232.0" cy="353.5" r="2.9" fill="#0a0a0a"/>
<circle cx="235.7" cy="346.3" r="2.9" fill="#0a0a0a"/>
<circle cx="239.0" cy="342.0" r="2.9" fill="#0a0a0a"/>
<circle cx="242.8" cy="338.2" r="2.9" fill="#0a0a0a"/>
<circle cx="246.2" cy="334.5" r="2.9" fill="#0a0a0a"/>
<circle cx="250.2" cy="330.0" r="2.9" fill="#0a0a0a"/>
<circle cx="258.5" cy="319.5" r="2.9" fill="#0a0a0a"/>
<circle cx="263.6" cy="313.8" r="2.9" fill="#0a0a0a"/>
<circle cx="268.8" cy="308.1" r="2.9" fill="#0a0a0a"/>
<circle cx="275.3" cy="301.7" r="2.9" fill="#0a0a0a"/>
<circle cx="281.2" cy="297.2" r="2.9" fill="#0a0a0a"/>
<circle cx="287.0" cy="292.3" r="2.9" fill="#0a0a0a"/>
<circle cx="291.9" cy="287.7" r="2.9" fill="#0a0a0a"/>
<circle cx="296.5" cy="284.6" r="2.9" fill="#0a0a0a"/>
<circle cx="301.9" cy="280.8" r="2.9" fill="#0a0a0a"/>
<circle cx="307.5" cy="276.3" r="2.9" fill="#0a0a0a"/>
<circle cx="312.6" cy="272.9" r="2.9" fill="#0a0a0a"/>
<circle cx="317.3" cy="271.2" r="2.9" fill="#0a0a0a"/>
<circle cx="321.7" cy="268.8" r="2.9" fill="#0a0a0a"/>
<circle cx="326.5" cy="264.4" r="2.9" fill="#0a0a0a"/>
<circle cx="330.8" cy="261.5" r="2.9" fill="#0a0a0a"/>
<circle cx="334.6" cy="259.2" r="2.9" fill="#0a0a0a"/>
<circle cx="338.3" cy="256.5" r="2.9" fill="#0a0a0a"/>
<circle cx="342.5" cy="254.2" r="2.9" fill="#0a0a0a"/>
<circle cx="346.8" cy="251.8" r="2.9" fill="#0a0a0a"/>
<circle cx="351.2" cy="249.6" r="2.9" fill="#0a0a0a"/>
<circle cx="355.3" cy="247.5" r="2.9" fill="#0a0a0a"/>
<circle cx="359.3" cy="245.8" r="2.9" fill="#0a0a0a"/>
<circle cx="364.3" cy="242.3" r="2.9" fill="#0a0a0a"/>
<circle cx="369.2" cy="236.5" r="2.9" fill="#0a0a0a"/>
<circle cx="374.0" cy="235.6" r="2.9" fill="#0a0a0a"/>
<circle cx="377.9" cy="229.4" r="2.9" fill="#0a0a0a"/>
<circle cx="389.0" cy="220.8" r="2.9" fill="#0a0a0a"/>
<circle cx="400.7" cy="210.3" r="2.9" fill="#0a0a0a"/>
<circle cx="411.5" cy="205.1" r="2.9" fill="#0a0a0a"/>
<circle cx="420.3" cy="196.7" r="2.9" fill="#0a0a0a"/>
<circle cx="429.7" cy="188.2" r="2.9" fill="#0a0a0a"/>
<circle cx="437.4" cy="182.3" r="2.9" fill="#0a0a0a"/>
<circle cx="444.6" cy="173.4" r="2.9" fill="#0a0a0a"/>
<circle cx="450.6" cy="167.7" r="2.9" fill="#0a0a0a"/>
<circle cx="456.4" cy="162.5" r="2.9" fill="#0a0a0a"/>
<circle cx="462.0" cy="157.7" r="2.9" fill="#0a0a0a"/>
<circle cx="466.9" cy="153.2" r="2.9" fill="#0a0a0a"/>
<circle cx="471.5" cy="148.5" r="2.9" fill="#0a0a0a"/>
<circle cx="476.0" cy="145.0" r="2.9" fill="#0a0a0a"/>
<circle cx="480.0" cy="142.3" r="2.9" fill="#0a0a0a"/>
<circle cx="483.8" cy="140.3" r="2.9" fill="#0a0a0a"/>
<circle cx="487.7" cy="138.5" r="2.9" fill="#0a0a0a"/>
<circle cx="490.8" cy="138.2" r="2.9" fill="#0a0a0a"/>
<circle cx="493.8" cy="138.2" r="2.9" fill="#0a0a0a"/>
<polygon points="173.8,419.1 177.1,422.4 173.8,425.7 170.5,422.4" fill="#0a0a0a"/>
<polygon points="189.7,402.9 193.0,406.2 189.7,409.5 186.4,406.2" fill="#0a0a0a"/>
<polygon points="201.8,374.1 205.1,377.4 201.8,380.7 198.5,377.4" fill="#0a0a0a"/>
<polygon points="212.4,366.7 215.7,370.0 212.4,373.3 209.1,370.0" fill="#0a0a0a"/>
<polygon points="220.8,357.7 224.1,361.0 220.8,364.3 217.5,361.0" fill="#0a0a0a"/>
<polygon points="234.6,316.4 237.9,319.7 234.6,323.0 231.3,319.7" fill="#0a0a0a"/>
<polygon points="251.9,286.7 255.2,290.0 251.9,293.3 248.6,290.0" fill="#0a0a0a"/>
<polygon points="262.7,265.9 266.0,269.2 262.7,272.5 259.4,269.2" fill="#0a0a0a"/>
<polygon points="272.7,253.9 276.0,257.2 272.7,260.5 269.4,257.2" fill="#0a0a0a"/>
<polygon points="280.7,239.8 284.0,243.1 280.7,246.4 277.4,243.1" fill="#0a0a0a"/>
<polygon points="295.0,222.1 298.3,225.4 295.0,228.7 291.7,225.4" fill="#0a0a0a"/>
<polygon points="306.2,205.6 309.5,208.9 306.2,212.2 302.9,208.9" fill="#0a0a0a"/>
<polygon points="316.2,192.1 319.5,195.4 316.2,198.7 312.9,195.4" fill="#0a0a0a"/>
<polygon points="324.7,181.9 328.0,185.2 324.7,188.5 321.4,185.2" fill="#0a0a0a"/>
<polygon points="331.9,175.6 335.2,178.9 331.9,182.2 328.6,178.9" fill="#0a0a0a"/>
<polygon points="337.7,171.7 341.0,175.0 337.7,178.3 334.4,175.0" fill="#0a0a0a"/>
<polygon points="349.5,160.2 352.8,163.5 349.5,166.8 346.2,163.5" fill="#0a0a0a"/>
<polygon points="363.1,145.5 366.4,148.8 363.1,152.1 359.8,148.8" fill="#0a0a0a"/>
<polygon points="375.2,133.6 378.5,136.9 375.2,140.2 371.9,136.9" fill="#0a0a0a"/>
<polygon points="388.4,125.9 391.7,129.2 388.4,132.5 385.1,129.2" fill="#0a0a0a"/>
<polygon points="397.7,121.1 401.0,124.4 397.7,127.7 394.4,124.4" fill="#0a0a0a"/>
<polygon points="406.7,111.3 410.0,114.6 406.7,117.9 403.4,114.6" fill="#0a0a0a"/>
<polygon points="416.5,103.0 419.8,106.3 416.5,109.6 413.2,106.3" fill="#0a0a0a"/>
<polygon points="424.3,98.1 427.6,101.4 424.3,104.7 421.0,101.4" fill="#0a0a0a"/>
<polygon points="431.6,89.0 434.9,92.3 431.6,95.6 428.3,92.3" fill="#0a0a0a"/>
<polygon points="437.6,83.7 440.9,87.0 437.6,90.3 434.3,87.0" fill="#0a0a0a"/>
<polygon points="448.6,75.3 451.9,78.6 448.6,81.9 445.3,78.6" fill="#0a0a0a"/>
<polygon points="458.0,66.9 461.3,70.2 458.0,73.5 454.7,70.2" fill="#0a0a0a"/>
<polygon points="466.2,62.0 469.5,65.3 466.2,68.6 462.9,65.3" fill="#0a0a0a"/>
<polygon points="473.8,58.1 477.1,61.4 473.8,64.7 470.5,61.4" fill="#0a0a0a"/>
<polygon points="480.0,58.1 483.3,61.4 480.0,64.7 476.7,61.4" fill="#0a0a0a"/>
<circle cx="107.0" cy="34.2" r="2.7" fill="#0a0a0a"/>
<circle cx="107.0" cy="55.2" r="2.5" fill="none" stroke="#0a0a0a" stroke-width="1.0"/>
<polygon points="107.0,72.9 104.2,78.9 109.8,78.9" fill="#0a0a0a"/>
<polygon points="107.0,95.0 104.3,100.8 109.7,100.8" fill="none" stroke="#0a0a0a" stroke-width="1.0" stroke-linejoin="miter"/>
<polygon points="107.0,115.8 110.0,118.8 107.0,121.8 104.0,118.8" fill="#0a0a0a"/>
<line x1="81.00" y1="139.20" x2="134.00" y2="139.20" stroke="#0a0a0a" stroke-width="1.1" />
<text x="138.8" y="38.2" font-family="'Liberation Serif',serif" font-size="15" fill="#0a0a0a" stroke="#0a0a0a" stroke-width="0.3">water</text>
<text x="138.8" y="59.5" font-family="'Liberation Serif',serif" font-size="15" fill="#0a0a0a" stroke="#0a0a0a" stroke-width="0.3" textLength="226.5" lengthAdjust="spacing">0.25 ppm (<tspan font-style="italic">c</tspan><tspan font-style="italic" font-size="9.5" dx="0.5" dy="4.5">i</tspan><tspan dy="-4.5">= 100 ppm) - %DR = 14</tspan></text>
<text x="138.8" y="80.8" font-family="'Liberation Serif',serif" font-size="15" fill="#0a0a0a" stroke="#0a0a0a" stroke-width="0.3" textLength="219" lengthAdjust="spacing">1.25 ppm (<tspan font-style="italic">c</tspan><tspan font-style="italic" font-size="9.5" dx="0.5" dy="4.5">i</tspan><tspan dy="-4.5">= 100 ppm) - %DR=19</tspan></text>
<text x="138.8" y="102.4" font-family="'Liberation Serif',serif" font-size="15" fill="#0a0a0a" stroke="#0a0a0a" stroke-width="0.3" textLength="220" lengthAdjust="spacing">2.0 ppm (<tspan font-style="italic">c</tspan><tspan font-style="italic" font-size="9.5" dx="0.5" dy="4.5">i</tspan><tspan dy="-4.5">= 100 ppm) - %DR = 27</tspan></text>
<text x="138.8" y="123.3" font-family="'Liberation Serif',serif" font-size="15" fill="#0a0a0a" stroke="#0a0a0a" stroke-width="0.3" textLength="220" lengthAdjust="spacing">1.25 ppm (<tspan font-style="italic">c</tspan><tspan font-style="italic" font-size="9.5" dx="0.5" dy="4.5">i</tspan><tspan dy="-4.5">= 50 ppm) - %DR = 33</tspan></text>
<text x="137.8" y="144.4" font-family="'Liberation Sans',sans-serif" font-size="13.8" font-style="italic" fill="#0a0a0a" stroke="#0a0a0a" stroke-width="0.2">y</text>
<text x="144.9" y="137.2" font-family="'Liberation Sans',sans-serif" font-size="9.5"  fill="#0a0a0a" stroke="#0a0a0a" stroke-width="0.2">+</text>
<text x="153.2" y="143.0" font-family="'Liberation Sans',sans-serif" font-size="13.5"  fill="#0a0a0a" stroke="#0a0a0a" stroke-width="0.2">=</text>
<text x="171.6" y="143.2" font-family="'Liberation Sans',sans-serif" font-size="13.8" font-style="italic" fill="#0a0a0a" stroke="#0a0a0a" stroke-width="0.2">U</text>
<text x="183.0" y="138.2" font-family="'Liberation Sans',sans-serif" font-size="10"  fill="#0a0a0a" stroke="#0a0a0a" stroke-width="0.2">+</text>
<text x="424.00" y="505.80" font-family="'DejaVu Sans','Liberation Sans',sans-serif" font-size="40" text-anchor="start" fill="#0a0a0a" stroke="#0a0a0a" stroke-width="0"  >(a)</text>
<polyline points="50.00,1170.00 49.64,1142.70 49.28,1115.40 48.92,1088.10 48.61,1060.48 48.32,1032.70 48.04,1004.92 47.75,977.24 47.47,949.76 47.18,922.28 46.90,894.80 46.86,867.71 46.82,840.62 46.78,813.53 46.74,785.98 46.70,758.20 46.66,730.42 46.62,702.59 46.58,674.64 46.54,646.69 46.50,618.75" fill="none" stroke="#0a0a0a" stroke-width="1.35" stroke-linejoin="round" />
<polyline points="501.25,1171.20 500.99,1143.88 500.72,1116.56 500.46,1089.23 500.19,1061.59 499.92,1033.79 499.65,1005.99 499.38,978.28 499.09,950.78 498.75,923.28 498.41,895.77 498.07,868.66 497.74,841.55 497.40,814.44 497.06,786.87 496.72,759.06 496.38,731.26 496.03,703.40 495.69,675.43 495.34,647.47 495.00,619.50" fill="none" stroke="#0a0a0a" stroke-width="1.15" stroke-linejoin="round" />
<polyline points="50.00,1170.00 201.76,1170.40 352.52,1170.80 501.25,1171.20" fill="none" stroke="#0a0a0a" stroke-width="1.35" stroke-linejoin="round" />
<polyline points="46.50,618.75 197.33,619.00 347.17,619.25 495.00,619.50" fill="none" stroke="#0a0a0a" stroke-width="1.35" stroke-linejoin="round" />
<line x1="50.00" y1="1170.00" x2="59.00" y2="1170.00" stroke="#0a0a0a" stroke-width="1.35" />
<line x1="501.25" y1="1171.20" x2="493.25" y2="1171.20" stroke="#0a0a0a" stroke-width="1.15" />
<line x1="49.76" y1="1151.80" x2="54.96" y2="1151.80" stroke="#0a0a0a" stroke-width="1.35" />
<line x1="501.07" y1="1152.98" x2="497.07" y2="1152.98" stroke="#0a0a0a" stroke-width="1.15" />
<line x1="49.52" y1="1133.60" x2="54.72" y2="1133.60" stroke="#0a0a0a" stroke-width="1.35" />
<line x1="500.90" y1="1134.77" x2="496.90" y2="1134.77" stroke="#0a0a0a" stroke-width="1.15" />
<line x1="49.28" y1="1115.40" x2="54.48" y2="1115.40" stroke="#0a0a0a" stroke-width="1.35" />
<line x1="500.72" y1="1116.56" x2="496.72" y2="1116.56" stroke="#0a0a0a" stroke-width="1.15" />
<line x1="49.04" y1="1097.20" x2="54.24" y2="1097.20" stroke="#0a0a0a" stroke-width="1.35" />
<line x1="500.54" y1="1098.34" x2="496.54" y2="1098.34" stroke="#0a0a0a" stroke-width="1.15" />
<line x1="48.80" y1="1079.00" x2="57.80" y2="1079.00" stroke="#0a0a0a" stroke-width="1.35" />
<line x1="500.37" y1="1080.12" x2="492.37" y2="1080.12" stroke="#0a0a0a" stroke-width="1.15" />
<line x1="48.61" y1="1060.48" x2="53.81" y2="1060.48" stroke="#0a0a0a" stroke-width="1.35" />
<line x1="500.19" y1="1061.59" x2="496.19" y2="1061.59" stroke="#0a0a0a" stroke-width="1.15" />
<line x1="48.42" y1="1041.96" x2="53.62" y2="1041.96" stroke="#0a0a0a" stroke-width="1.35" />
<line x1="500.01" y1="1043.06" x2="496.01" y2="1043.06" stroke="#0a0a0a" stroke-width="1.15" />
<line x1="48.23" y1="1023.44" x2="53.43" y2="1023.44" stroke="#0a0a0a" stroke-width="1.35" />
<line x1="499.83" y1="1024.52" x2="495.83" y2="1024.52" stroke="#0a0a0a" stroke-width="1.15" />
<line x1="48.04" y1="1004.92" x2="53.24" y2="1004.92" stroke="#0a0a0a" stroke-width="1.35" />
<line x1="499.65" y1="1005.99" x2="495.65" y2="1005.99" stroke="#0a0a0a" stroke-width="1.15" />
<line x1="47.84" y1="986.40" x2="56.84" y2="986.40" stroke="#0a0a0a" stroke-width="1.35" />
<line x1="499.47" y1="987.45" x2="491.47" y2="987.45" stroke="#0a0a0a" stroke-width="1.15" />
<line x1="47.65" y1="968.08" x2="52.85" y2="968.08" stroke="#0a0a0a" stroke-width="1.35" />
<line x1="499.29" y1="969.11" x2="495.29" y2="969.11" stroke="#0a0a0a" stroke-width="1.15" />
<line x1="47.47" y1="949.76" x2="52.67" y2="949.76" stroke="#0a0a0a" stroke-width="1.35" />
<line x1="499.09" y1="950.78" x2="495.09" y2="950.78" stroke="#0a0a0a" stroke-width="1.15" />
<line x1="47.28" y1="931.44" x2="52.48" y2="931.44" stroke="#0a0a0a" stroke-width="1.35" />
<line x1="498.86" y1="932.44" x2="494.86" y2="932.44" stroke="#0a0a0a" stroke-width="1.15" />
<line x1="47.09" y1="913.12" x2="52.29" y2="913.12" stroke="#0a0a0a" stroke-width="1.35" />
<line x1="498.63" y1="914.11" x2="494.63" y2="914.11" stroke="#0a0a0a" stroke-width="1.15" />
<line x1="46.90" y1="894.80" x2="55.90" y2="894.80" stroke="#0a0a0a" stroke-width="1.35" />
<line x1="498.41" y1="895.77" x2="490.41" y2="895.77" stroke="#0a0a0a" stroke-width="1.15" />
<line x1="46.87" y1="876.74" x2="52.07" y2="876.74" stroke="#0a0a0a" stroke-width="1.35" />
<line x1="498.18" y1="877.70" x2="494.18" y2="877.70" stroke="#0a0a0a" stroke-width="1.15" />
<line x1="46.85" y1="858.68" x2="52.05" y2="858.68" stroke="#0a0a0a" stroke-width="1.35" />
<line x1="497.96" y1="859.62" x2="493.96" y2="859.62" stroke="#0a0a0a" stroke-width="1.15" />
<line x1="46.82" y1="840.62" x2="52.02" y2="840.62" stroke="#0a0a0a" stroke-width="1.35" />
<line x1="497.74" y1="841.55" x2="493.74" y2="841.55" stroke="#0a0a0a" stroke-width="1.15" />
<line x1="46.80" y1="822.56" x2="52.00" y2="822.56" stroke="#0a0a0a" stroke-width="1.35" />
<line x1="497.52" y1="823.47" x2="493.52" y2="823.47" stroke="#0a0a0a" stroke-width="1.15" />
<line x1="46.77" y1="804.50" x2="55.77" y2="804.50" stroke="#0a0a0a" stroke-width="1.35" />
<line x1="497.29" y1="805.40" x2="489.29" y2="805.40" stroke="#0a0a0a" stroke-width="1.15" />
<line x1="46.74" y1="785.98" x2="51.94" y2="785.98" stroke="#0a0a0a" stroke-width="1.35" />
<line x1="497.06" y1="786.87" x2="493.06" y2="786.87" stroke="#0a0a0a" stroke-width="1.15" />
<line x1="46.72" y1="767.46" x2="51.92" y2="767.46" stroke="#0a0a0a" stroke-width="1.35" />
<line x1="496.84" y1="768.33" x2="492.84" y2="768.33" stroke="#0a0a0a" stroke-width="1.15" />
<line x1="46.69" y1="748.94" x2="51.89" y2="748.94" stroke="#0a0a0a" stroke-width="1.35" />
<line x1="496.61" y1="749.79" x2="492.61" y2="749.79" stroke="#0a0a0a" stroke-width="1.15" />
<line x1="46.66" y1="730.42" x2="51.86" y2="730.42" stroke="#0a0a0a" stroke-width="1.35" />
<line x1="496.38" y1="731.26" x2="492.38" y2="731.26" stroke="#0a0a0a" stroke-width="1.15" />
<line x1="46.63" y1="711.90" x2="55.63" y2="711.90" stroke="#0a0a0a" stroke-width="1.35" />
<line x1="496.15" y1="712.73" x2="488.15" y2="712.73" stroke="#0a0a0a" stroke-width="1.15" />
<line x1="46.61" y1="693.27" x2="51.81" y2="693.27" stroke="#0a0a0a" stroke-width="1.35" />
<line x1="495.92" y1="694.08" x2="491.92" y2="694.08" stroke="#0a0a0a" stroke-width="1.15" />
<line x1="46.58" y1="674.64" x2="51.78" y2="674.64" stroke="#0a0a0a" stroke-width="1.35" />
<line x1="495.69" y1="675.43" x2="491.69" y2="675.43" stroke="#0a0a0a" stroke-width="1.15" />
<line x1="46.55" y1="656.01" x2="51.75" y2="656.01" stroke="#0a0a0a" stroke-width="1.35" />
<line x1="495.46" y1="656.79" x2="491.46" y2="656.79" stroke="#0a0a0a" stroke-width="1.15" />
<line x1="46.53" y1="637.38" x2="51.73" y2="637.38" stroke="#0a0a0a" stroke-width="1.35" />
<line x1="495.23" y1="638.14" x2="491.23" y2="638.14" stroke="#0a0a0a" stroke-width="1.15" />
<line x1="46.50" y1="618.75" x2="55.50" y2="618.75" stroke="#0a0a0a" stroke-width="1.35" />
<line x1="495.00" y1="619.50" x2="487.00" y2="619.50" stroke="#0a0a0a" stroke-width="1.15" />
<line x1="50.00" y1="1170.00" x2="50.00" y2="1162.00" stroke="#0a0a0a" stroke-width="1.215" />
<line x1="46.50" y1="618.75" x2="46.50" y2="626.75" stroke="#0a0a0a" stroke-width="1.215" />
<line x1="95.68" y1="1170.12" x2="95.68" y2="1166.92" stroke="#0a0a0a" stroke-width="1.215" />
<line x1="91.90" y1="618.83" x2="91.90" y2="622.03" stroke="#0a0a0a" stroke-width="1.215" />
<line x1="122.41" y1="1170.19" x2="122.41" y2="1166.99" stroke="#0a0a0a" stroke-width="1.215" />
<line x1="118.46" y1="618.87" x2="118.46" y2="622.07" stroke="#0a0a0a" stroke-width="1.215" />
<line x1="141.37" y1="1170.24" x2="141.37" y2="1167.04" stroke="#0a0a0a" stroke-width="1.215" />
<line x1="137.31" y1="618.90" x2="137.31" y2="622.10" stroke="#0a0a0a" stroke-width="1.215" />
<line x1="156.07" y1="1170.28" x2="156.07" y2="1167.08" stroke="#0a0a0a" stroke-width="1.215" />
<line x1="151.92" y1="618.93" x2="151.92" y2="622.13" stroke="#0a0a0a" stroke-width="1.215" />
<line x1="168.09" y1="1170.31" x2="168.09" y2="1167.11" stroke="#0a0a0a" stroke-width="1.215" />
<line x1="163.87" y1="618.95" x2="163.87" y2="622.15" stroke="#0a0a0a" stroke-width="1.215" />
<line x1="178.25" y1="1170.34" x2="178.25" y2="1167.14" stroke="#0a0a0a" stroke-width="1.215" />
<line x1="173.96" y1="618.96" x2="173.96" y2="622.16" stroke="#0a0a0a" stroke-width="1.215" />
<line x1="187.05" y1="1170.36" x2="187.05" y2="1167.16" stroke="#0a0a0a" stroke-width="1.215" />
<line x1="182.71" y1="618.98" x2="182.71" y2="622.18" stroke="#0a0a0a" stroke-width="1.215" />
<line x1="194.81" y1="1170.39" x2="194.81" y2="1167.19" stroke="#0a0a0a" stroke-width="1.215" />
<line x1="190.43" y1="618.99" x2="190.43" y2="622.19" stroke="#0a0a0a" stroke-width="1.215" />
<line x1="201.76" y1="1170.40" x2="201.76" y2="1162.40" stroke="#0a0a0a" stroke-width="1.215" />
<line x1="197.33" y1="619.00" x2="197.33" y2="627.00" stroke="#0a0a0a" stroke-width="1.215" />
<line x1="247.14" y1="1170.52" x2="247.14" y2="1167.32" stroke="#0a0a0a" stroke-width="1.215" />
<line x1="242.44" y1="619.08" x2="242.44" y2="622.28" stroke="#0a0a0a" stroke-width="1.215" />
<line x1="273.69" y1="1170.59" x2="273.69" y2="1167.39" stroke="#0a0a0a" stroke-width="1.215" />
<line x1="268.82" y1="619.12" x2="268.82" y2="622.32" stroke="#0a0a0a" stroke-width="1.215" />
<line x1="292.53" y1="1170.64" x2="292.53" y2="1167.44" stroke="#0a0a0a" stroke-width="1.215" />
<line x1="287.54" y1="619.15" x2="287.54" y2="622.35" stroke="#0a0a0a" stroke-width="1.215" />
<line x1="307.14" y1="1170.68" x2="307.14" y2="1167.48" stroke="#0a0a0a" stroke-width="1.215" />
<line x1="302.06" y1="619.18" x2="302.06" y2="622.38" stroke="#0a0a0a" stroke-width="1.215" />
<line x1="319.07" y1="1170.72" x2="319.07" y2="1167.52" stroke="#0a0a0a" stroke-width="1.215" />
<line x1="313.93" y1="619.20" x2="313.93" y2="622.40" stroke="#0a0a0a" stroke-width="1.215" />
<line x1="329.17" y1="1170.74" x2="329.17" y2="1167.54" stroke="#0a0a0a" stroke-width="1.215" />
<line x1="323.96" y1="619.21" x2="323.96" y2="622.41" stroke="#0a0a0a" stroke-width="1.215" />
<line x1="337.91" y1="1170.77" x2="337.91" y2="1167.57" stroke="#0a0a0a" stroke-width="1.215" />
<line x1="332.65" y1="619.23" x2="332.65" y2="622.43" stroke="#0a0a0a" stroke-width="1.215" />
<line x1="345.62" y1="1170.79" x2="345.62" y2="1167.59" stroke="#0a0a0a" stroke-width="1.215" />
<line x1="340.32" y1="619.24" x2="340.32" y2="622.44" stroke="#0a0a0a" stroke-width="1.215" />
<line x1="352.52" y1="1170.80" x2="352.52" y2="1162.80" stroke="#0a0a0a" stroke-width="1.215" />
<line x1="347.17" y1="619.25" x2="347.17" y2="627.25" stroke="#0a0a0a" stroke-width="1.215" />
<line x1="397.29" y1="1170.92" x2="397.29" y2="1167.72" stroke="#0a0a0a" stroke-width="1.215" />
<line x1="391.67" y1="619.33" x2="391.67" y2="622.53" stroke="#0a0a0a" stroke-width="1.215" />
<line x1="423.48" y1="1170.99" x2="423.48" y2="1167.79" stroke="#0a0a0a" stroke-width="1.215" />
<line x1="417.70" y1="619.37" x2="417.70" y2="622.57" stroke="#0a0a0a" stroke-width="1.215" />
<line x1="442.07" y1="1171.04" x2="442.07" y2="1167.84" stroke="#0a0a0a" stroke-width="1.215" />
<line x1="436.17" y1="619.40" x2="436.17" y2="622.60" stroke="#0a0a0a" stroke-width="1.215" />
<line x1="456.48" y1="1171.08" x2="456.48" y2="1167.88" stroke="#0a0a0a" stroke-width="1.215" />
<line x1="450.50" y1="619.43" x2="450.50" y2="622.63" stroke="#0a0a0a" stroke-width="1.215" />
<line x1="468.26" y1="1171.11" x2="468.26" y2="1167.91" stroke="#0a0a0a" stroke-width="1.215" />
<line x1="462.20" y1="619.45" x2="462.20" y2="622.65" stroke="#0a0a0a" stroke-width="1.215" />
<line x1="478.21" y1="1171.14" x2="478.21" y2="1167.94" stroke="#0a0a0a" stroke-width="1.215" />
<line x1="472.10" y1="619.46" x2="472.10" y2="622.66" stroke="#0a0a0a" stroke-width="1.215" />
<line x1="486.84" y1="1171.16" x2="486.84" y2="1167.96" stroke="#0a0a0a" stroke-width="1.215" />
<line x1="480.67" y1="619.48" x2="480.67" y2="622.68" stroke="#0a0a0a" stroke-width="1.215" />
<line x1="494.45" y1="1171.18" x2="494.45" y2="1167.98" stroke="#0a0a0a" stroke-width="1.215" />
<line x1="488.24" y1="619.49" x2="488.24" y2="622.69" stroke="#0a0a0a" stroke-width="1.215" />
<line x1="501.25" y1="1171.20" x2="501.25" y2="1163.20" stroke="#0a0a0a" stroke-width="1.35" />
<line x1="495.00" y1="619.50" x2="495.00" y2="627.50" stroke="#0a0a0a" stroke-width="1.35" />
<text x="39.30" y="623.45" font-family="'Liberation Serif','DejaVu Serif',serif" font-size="16.3" text-anchor="end" fill="#0a0a0a" stroke="#0a0a0a" stroke-width="0.3"  >60</text>
<text x="39.30" y="716.60" font-family="'Liberation Serif','DejaVu Serif',serif" font-size="16.3" text-anchor="end" fill="#0a0a0a" stroke="#0a0a0a" stroke-width="0.3"  >50</text>
<text x="39.30" y="809.20" font-family="'Liberation Serif','DejaVu Serif',serif" font-size="16.3" text-anchor="end" fill="#0a0a0a" stroke="#0a0a0a" stroke-width="0.3"  >40</text>
<text x="39.30" y="899.50" font-family="'Liberation Serif','DejaVu Serif',serif" font-size="16.3" text-anchor="end" fill="#0a0a0a" stroke="#0a0a0a" stroke-width="0.3"  >30</text>
<text x="39.30" y="991.10" font-family="'Liberation Serif','DejaVu Serif',serif" font-size="16.3" text-anchor="end" fill="#0a0a0a" stroke="#0a0a0a" stroke-width="0.3"  >20</text>
<text x="39.30" y="1083.70" font-family="'Liberation Serif','DejaVu Serif',serif" font-size="16.3" text-anchor="end" fill="#0a0a0a" stroke="#0a0a0a" stroke-width="0.3"  >10</text>
<text x="39.30" y="1174.70" font-family="'Liberation Serif','DejaVu Serif',serif" font-size="16.3" text-anchor="end" fill="#0a0a0a" stroke="#0a0a0a" stroke-width="0.3"  >0</text>
<text x="50.00" y="1190.30" font-family="'Liberation Serif','DejaVu Serif',serif" font-size="14.5" text-anchor="middle" fill="#0a0a0a" stroke="#0a0a0a" stroke-width="0.3"  >1</text>
<text x="203.60" y="1190.30" font-family="'Liberation Serif','DejaVu Serif',serif" font-size="14.5" text-anchor="middle" fill="#0a0a0a" stroke="#0a0a0a" stroke-width="0.3"  >10</text>
<text x="355.20" y="1190.30" font-family="'Liberation Serif','DejaVu Serif',serif" font-size="14.5" text-anchor="middle" fill="#0a0a0a" stroke="#0a0a0a" stroke-width="0.3"  >100</text>
<text x="503.80" y="1190.30" font-family="'Liberation Serif','DejaVu Serif',serif" font-size="14.5" text-anchor="middle" fill="#0a0a0a" stroke="#0a0a0a" stroke-width="0.3"  >1000</text>
<g transform="translate(14.3,902.6) rotate(-90)"><text x="0" y="0" font-family="'Liberation Serif',serif" font-size="15" font-style="italic" fill="#0a0a0a" stroke="#0a0a0a" stroke-width="0.35">U</text><text x="12.7" y="-4.8" font-family="'Liberation Serif',serif" font-size="11.5" fill="#0a0a0a" stroke="#0a0a0a" stroke-width="0.4">+</text></g>
<text x="268.6" y="1207.8" font-family="'Liberation Serif',serif" font-size="16.5" fill="#0a0a0a" stroke="#0a0a0a" stroke-width="0.3">y<tspan dx="2" dy="-3.8" font-size="11.5">+</tspan></text>
<polyline points="49.88,1160.90 52.46,1160.54 55.04,1160.17 57.62,1159.78 60.20,1159.38 62.78,1158.96 65.36,1158.53 67.94,1158.07 70.52,1157.60 73.10,1157.11 75.67,1156.60 78.25,1156.07 80.83,1155.51 83.41,1154.94 85.99,1154.34 88.56,1153.71 91.14,1153.06 93.72,1152.39 96.29,1151.69 98.87,1150.96 101.44,1150.20 104.02,1149.41 106.59,1148.58 109.17,1147.73 111.74,1146.84 114.32,1145.91 116.89,1144.95 119.46,1143.94 122.03,1142.90 124.61,1141.82 127.18,1140.69 129.75,1139.51 132.32,1138.29 134.89,1137.02 137.46,1135.70 140.02,1134.33 142.59,1132.90 145.16,1131.41 147.73,1129.86 150.29,1128.25 152.86,1126.58 155.42,1124.84 157.98,1123.03 160.55,1121.14 163.11,1119.18 165.67,1117.14 168.23,1115.02 170.79,1112.82 173.35,1110.52 175.90,1108.14 178.46,1105.66 181.01,1103.08 183.57,1100.39 186.12,1097.60 188.67,1094.70 191.22,1091.68 193.77,1088.53 196.31,1085.27 198.86,1081.87 201.40,1078.31 203.93,1074.57 206.46,1070.68 208.99,1066.64 211.52,1062.43 214.04,1058.05 216.57,1053.49 219.09,1048.76 221.61,1043.83 224.13,1038.71 226.64,1033.38 229.16,1027.84 231.67,1022.08 234.18,1016.08 236.69,1009.85 239.19,1003.36 241.69,996.62 244.19,989.61 245.15,986.86" fill="none" stroke="#0a0a0a" stroke-width="1.5" stroke-linejoin="round" />
<line x1="218.50" y1="1046.50" x2="234.60" y2="1022.90" stroke="#0a0a0a" stroke-width="1.5" />
<line x1="246.40" y1="1001.60" x2="259.60" y2="982.50" stroke="#0a0a0a" stroke-width="1.5" />
<line x1="270.20" y1="962.70" x2="282.70" y2="942.50" stroke="#0a0a0a" stroke-width="1.5" />
<line x1="294.60" y1="921.90" x2="306.70" y2="903.10" stroke="#0a0a0a" stroke-width="1.5" />
<line x1="318.30" y1="883.50" x2="330.80" y2="863.70" stroke="#0a0a0a" stroke-width="1.5" />
<line x1="343.30" y1="843.10" x2="354.80" y2="825.20" stroke="#0a0a0a" stroke-width="1.5" />
<line x1="366.30" y1="805.00" x2="379.50" y2="785.00" stroke="#0a0a0a" stroke-width="1.5" />
<line x1="389.80" y1="764.60" x2="401.30" y2="745.40" stroke="#0a0a0a" stroke-width="1.5" />
<line x1="413.70" y1="724.60" x2="425.20" y2="705.40" stroke="#0a0a0a" stroke-width="1.5" />
<line x1="437.30" y1="684.20" x2="448.30" y2="664.60" stroke="#0a0a0a" stroke-width="1.5" />
<line x1="240.00" y1="1014.00" x2="242.50" y2="1010.30" stroke="#0a0a0a" stroke-width="1.5" />
<line x1="264.40" y1="973.80" x2="267.00" y2="970.00" stroke="#0a0a0a" stroke-width="1.5" />
<line x1="287.50" y1="934.80" x2="290.00" y2="930.40" stroke="#0a0a0a" stroke-width="1.5" />
<line x1="311.50" y1="894.40" x2="313.80" y2="890.60" stroke="#0a0a0a" stroke-width="1.5" />
<line x1="335.60" y1="856.00" x2="338.10" y2="851.50" stroke="#0a0a0a" stroke-width="1.5" />
<line x1="359.60" y1="816.50" x2="361.90" y2="812.70" stroke="#0a0a0a" stroke-width="1.5" />
<line x1="383.10" y1="776.20" x2="385.40" y2="772.30" stroke="#0a0a0a" stroke-width="1.5" />
<line x1="406.40" y1="737.20" x2="408.90" y2="733.00" stroke="#0a0a0a" stroke-width="1.5" />
<line x1="429.60" y1="696.70" x2="432.30" y2="692.30" stroke="#0a0a0a" stroke-width="1.5" />
<line x1="452.70" y1="656.30" x2="455.40" y2="651.90" stroke="#0a0a0a" stroke-width="1.5" />
<circle cx="185.4" cy="1102.0" r="2.15" fill="none" stroke="#0a0a0a" stroke-width="1.25"/>
<circle cx="195.0" cy="1092.0" r="2.15" fill="none" stroke="#0a0a0a" stroke-width="1.25"/>
<circle cx="209.0" cy="1081.9" r="2.15" fill="none" stroke="#0a0a0a" stroke-width="1.25"/>
<circle cx="211.8" cy="1083.9" r="2.15" fill="none" stroke="#0a0a0a" stroke-width="1.25"/>
<circle cx="221.8" cy="1069.1" r="2.15" fill="none" stroke="#0a0a0a" stroke-width="1.25"/>
<circle cx="226.0" cy="1072.4" r="2.15" fill="none" stroke="#0a0a0a" stroke-width="1.25"/>
<circle cx="243.6" cy="1054.7" r="2.15" fill="none" stroke="#0a0a0a" stroke-width="1.25"/>
<circle cx="255.7" cy="1043.6" r="2.15" fill="none" stroke="#0a0a0a" stroke-width="1.25"/>
<circle cx="265.2" cy="1033.5" r="2.15" fill="none" stroke="#0a0a0a" stroke-width="1.25"/>
<circle cx="274.4" cy="1023.5" r="2.15" fill="none" stroke="#0a0a0a" stroke-width="1.25"/>
<circle cx="281.7" cy="1011.9" r="2.15" fill="none" stroke="#0a0a0a" stroke-width="1.25"/>
<circle cx="288.5" cy="1009.4" r="2.15" fill="none" stroke="#0a0a0a" stroke-width="1.25"/>
<circle cx="299.8" cy="999.4" r="2.15" fill="none" stroke="#0a0a0a" stroke-width="1.25"/>
<circle cx="310.2" cy="991.3" r="2.15" fill="none" stroke="#0a0a0a" stroke-width="1.25"/>
<circle cx="319.2" cy="986.2" r="2.15" fill="none" stroke="#0a0a0a" stroke-width="1.25"/>
<circle cx="326.9" cy="981.2" r="2.15" fill="none" stroke="#0a0a0a" stroke-width="1.25"/>
<circle cx="333.8" cy="976.0" r="2.15" fill="none" stroke="#0a0a0a" stroke-width="1.25"/>
<circle cx="345.5" cy="966.2" r="2.15" fill="none" stroke="#0a0a0a" stroke-width="1.25"/>
<circle cx="355.2" cy="960.6" r="2.15" fill="none" stroke="#0a0a0a" stroke-width="1.25"/>
<circle cx="363.8" cy="956.8" r="2.15" fill="none" stroke="#0a0a0a" stroke-width="1.25"/>
<circle cx="371.6" cy="953.8" r="2.15" fill="none" stroke="#0a0a0a" stroke-width="1.25"/>
<circle cx="378.5" cy="950.0" r="2.15" fill="none" stroke="#0a0a0a" stroke-width="1.25"/>
<circle cx="387.0" cy="944.6" r="2.15" fill="none" stroke="#0a0a0a" stroke-width="1.25"/>
<circle cx="395.1" cy="941.0" r="2.15" fill="none" stroke="#0a0a0a" stroke-width="1.25"/>
<circle cx="403.8" cy="936.8" r="2.15" fill="none" stroke="#0a0a0a" stroke-width="1.25"/>
<circle cx="414.0" cy="931.3" r="2.15" fill="none" stroke="#0a0a0a" stroke-width="1.25"/>
<circle cx="423.0" cy="928.4" r="2.15" fill="none" stroke="#0a0a0a" stroke-width="1.25"/>
<circle cx="430.5" cy="923.5" r="2.15" fill="none" stroke="#0a0a0a" stroke-width="1.25"/>
<circle cx="437.2" cy="921.6" r="2.15" fill="none" stroke="#0a0a0a" stroke-width="1.25"/>
<circle cx="443.2" cy="918.2" r="2.15" fill="none" stroke="#0a0a0a" stroke-width="1.25"/>
<circle cx="448.5" cy="916.5" r="2.15" fill="none" stroke="#0a0a0a" stroke-width="1.25"/>
<circle cx="454.0" cy="914.5" r="2.15" fill="none" stroke="#0a0a0a" stroke-width="1.25"/>
<circle cx="458.8" cy="912.6" r="2.15" fill="none" stroke="#0a0a0a" stroke-width="1.25"/>
<circle cx="463.4" cy="911.1" r="2.15" fill="none" stroke="#0a0a0a" stroke-width="1.25"/>
<circle cx="467.8" cy="909.8" r="2.15" fill="none" stroke="#0a0a0a" stroke-width="1.25"/>
<circle cx="472.3" cy="908.8" r="2.15" fill="none" stroke="#0a0a0a" stroke-width="1.25"/>
<circle cx="476.4" cy="908.8" r="2.15" fill="none" stroke="#0a0a0a" stroke-width="1.25"/>
<circle cx="480.9" cy="908.8" r="2.15" fill="none" stroke="#0a0a0a" stroke-width="1.25"/>
<polygon points="163.4,1110.2 161.2,1114.8 165.6,1114.8" fill="none" stroke="#0a0a0a" stroke-width="1.2" stroke-linejoin="miter"/>
<polygon points="175.5,1109.5 173.3,1114.1 177.7,1114.1" fill="none" stroke="#0a0a0a" stroke-width="1.2" stroke-linejoin="miter"/>
<polygon points="191.6,1093.5 189.4,1098.1 193.8,1098.1" fill="none" stroke="#0a0a0a" stroke-width="1.2" stroke-linejoin="miter"/>
<polygon points="201.7,1084.1 199.5,1088.7 203.9,1088.7" fill="none" stroke="#0a0a0a" stroke-width="1.2" stroke-linejoin="miter"/>
<polygon points="218.2,1069.1 216.0,1073.7 220.4,1073.7" fill="none" stroke="#0a0a0a" stroke-width="1.2" stroke-linejoin="miter"/>
<polygon points="230.0,1048.7 227.8,1053.3 232.2,1053.3" fill="none" stroke="#0a0a0a" stroke-width="1.2" stroke-linejoin="miter"/>
<polygon points="238.6,1031.5 236.4,1036.1 240.8,1036.1" fill="none" stroke="#0a0a0a" stroke-width="1.2" stroke-linejoin="miter"/>
<polygon points="253.5,1019.7 251.3,1024.3 255.7,1024.3" fill="none" stroke="#0a0a0a" stroke-width="1.2" stroke-linejoin="miter"/>
<polygon points="260.0,1003.8 257.8,1008.4 262.2,1008.4" fill="none" stroke="#0a0a0a" stroke-width="1.2" stroke-linejoin="miter"/>
<polygon points="265.4,982.9 263.2,987.5 267.6,987.5" fill="none" stroke="#0a0a0a" stroke-width="1.2" stroke-linejoin="miter"/>
<polygon points="278.8,967.5 276.6,972.1 281.0,972.1" fill="none" stroke="#0a0a0a" stroke-width="1.2" stroke-linejoin="miter"/>
<polygon points="290.4,952.5 288.2,957.1 292.6,957.1" fill="none" stroke="#0a0a0a" stroke-width="1.2" stroke-linejoin="miter"/>
<polygon points="297.1,929.0 294.9,933.6 299.3,933.6" fill="none" stroke="#0a0a0a" stroke-width="1.2" stroke-linejoin="miter"/>
<polygon points="324.0,891.3 321.8,895.9 326.2,895.9" fill="none" stroke="#0a0a0a" stroke-width="1.2" stroke-linejoin="miter"/>
<polygon points="342.7,852.9 340.5,857.5 344.9,857.5" fill="none" stroke="#0a0a0a" stroke-width="1.2" stroke-linejoin="miter"/>
<polygon points="357.1,833.7 354.9,838.3 359.3,838.3" fill="none" stroke="#0a0a0a" stroke-width="1.2" stroke-linejoin="miter"/>
<polygon points="368.7,823.9 366.5,828.5 370.9,828.5" fill="none" stroke="#0a0a0a" stroke-width="1.2" stroke-linejoin="miter"/>
<polygon points="378.6,819.4 376.4,824.0 380.8,824.0" fill="none" stroke="#0a0a0a" stroke-width="1.2" stroke-linejoin="miter"/>
<polygon points="387.2,812.5 385.0,817.1 389.4,817.1" fill="none" stroke="#0a0a0a" stroke-width="1.2" stroke-linejoin="miter"/>
<polygon points="394.6,808.3 392.4,812.9 396.8,812.9" fill="none" stroke="#0a0a0a" stroke-width="1.2" stroke-linejoin="miter"/>
<polygon points="401.0,806.0 398.8,810.6 403.2,810.6" fill="none" stroke="#0a0a0a" stroke-width="1.2" stroke-linejoin="miter"/>
<polygon points="184.4,1092.1 181.9,1097.3 186.9,1097.3" fill="#0a0a0a"/>
<polygon points="205.6,1084.9 203.1,1090.1 208.1,1090.1" fill="#0a0a0a"/>
<polygon points="246.0,1022.6 243.5,1027.8 248.5,1027.8" fill="#0a0a0a"/>
<polygon points="252.3,1041.3 249.8,1046.5 254.8,1046.5" fill="#0a0a0a"/>
<polygon points="266.3,1026.7 263.8,1031.9 268.8,1031.9" fill="#0a0a0a"/>
<polygon points="280.8,1014.2 278.3,1019.4 283.3,1019.4" fill="#0a0a0a"/>
<polygon points="292.3,1001.8 289.8,1007.0 294.8,1007.0" fill="#0a0a0a"/>
<polygon points="305.4,987.5 302.9,992.7 307.9,992.7" fill="#0a0a0a"/>
<polygon points="316.2,967.4 313.7,972.6 318.7,972.6" fill="#0a0a0a"/>
<polygon points="325.6,949.9 323.1,955.1 328.1,955.1" fill="#0a0a0a"/>
<polygon points="337.5,938.3 335.0,943.5 340.0,943.5" fill="#0a0a0a"/>
<polygon points="349.9,924.1 347.4,929.3 352.4,929.3" fill="#0a0a0a"/>
<polygon points="361.0,911.4 358.5,916.6 363.5,916.6" fill="#0a0a0a"/>
<polygon points="370.4,896.3 367.9,901.5 372.9,901.5" fill="#0a0a0a"/>
<polygon points="379.8,886.3 377.3,891.5 382.3,891.5" fill="#0a0a0a"/>
<polygon points="388.4,877.7 385.9,882.9 390.9,882.9" fill="#0a0a0a"/>
<polygon points="395.8,869.9 393.3,875.1 398.3,875.1" fill="#0a0a0a"/>
<polygon points="402.7,863.4 400.2,868.6 405.2,868.6" fill="#0a0a0a"/>
<polygon points="408.6,855.4 406.1,860.6 411.1,860.6" fill="#0a0a0a"/>
<polygon points="414.8,855.4 412.3,860.6 417.3,860.6" fill="#0a0a0a"/>
<polygon points="420.2,851.9 417.7,857.1 422.7,857.1" fill="#0a0a0a"/>
<polygon points="424.8,850.8 422.3,856.0 427.3,856.0" fill="#0a0a0a"/>
<polygon points="429.1,852.7 426.6,857.9 431.6,857.9" fill="#0a0a0a"/>
<polygon points="433.7,856.7 431.2,861.9 436.2,861.9" fill="#0a0a0a"/>
<polygon points="437.2,857.3 434.7,862.5 439.7,862.5" fill="#0a0a0a"/>
<polygon points="440.4,858.1 437.9,863.3 442.9,863.3" fill="#0a0a0a"/>
<polygon points="443.6,859.4 441.1,864.6 446.1,864.6" fill="#0a0a0a"/>
<polygon points="447.1,860.2 444.6,865.4 449.6,865.4" fill="#0a0a0a"/>
<circle cx="191.9" cy="1101.0" r="2.25" fill="#0a0a0a"/>
<circle cx="199.5" cy="1093.3" r="2.25" fill="#0a0a0a"/>
<circle cx="216.5" cy="1079.8" r="2.25" fill="#0a0a0a"/>
<circle cx="220.9" cy="1077.0" r="2.25" fill="#0a0a0a"/>
<circle cx="229.7" cy="1068.4" r="2.25" fill="#0a0a0a"/>
<circle cx="233.8" cy="1066.2" r="2.25" fill="#0a0a0a"/>
<circle cx="237.5" cy="1064.2" r="2.25" fill="#0a0a0a"/>
<circle cx="241.0" cy="1062.2" r="2.25" fill="#0a0a0a"/>
<circle cx="244.7" cy="1060.2" r="2.25" fill="#0a0a0a"/>
<circle cx="254.3" cy="1054.7" r="2.25" fill="#0a0a0a"/>
<circle cx="259.7" cy="1051.7" r="2.25" fill="#0a0a0a"/>
<circle cx="264.5" cy="1049.0" r="2.25" fill="#0a0a0a"/>
<circle cx="271.2" cy="1046.0" r="2.25" fill="#0a0a0a"/>
<circle cx="276.9" cy="1043.5" r="2.25" fill="#0a0a0a"/>
<circle cx="283.1" cy="1040.8" r="2.25" fill="#0a0a0a"/>
<circle cx="288.5" cy="1038.3" r="2.25" fill="#0a0a0a"/>
<circle cx="293.5" cy="1036.7" r="2.25" fill="#0a0a0a"/>
<circle cx="299.1" cy="1034.5" r="2.25" fill="#0a0a0a"/>
<circle cx="305.4" cy="1032.3" r="2.25" fill="#0a0a0a"/>
<circle cx="310.2" cy="1030.8" r="2.25" fill="#0a0a0a"/>
<circle cx="315.0" cy="1029.4" r="2.25" fill="#0a0a0a"/>
<circle cx="319.8" cy="1028.3" r="2.25" fill="#0a0a0a"/>
<circle cx="324.6" cy="1026.0" r="2.25" fill="#0a0a0a"/>
<circle cx="329.4" cy="1024.6" r="2.25" fill="#0a0a0a"/>
<circle cx="333.8" cy="1023.1" r="2.25" fill="#0a0a0a"/>
<circle cx="338.1" cy="1021.5" r="2.25" fill="#0a0a0a"/>
<circle cx="341.5" cy="1020.6" r="2.25" fill="#0a0a0a"/>
<circle cx="344.8" cy="1019.6" r="2.25" fill="#0a0a0a"/>
<circle cx="348.1" cy="1018.7" r="2.25" fill="#0a0a0a"/>
<circle cx="351.5" cy="1017.7" r="2.25" fill="#0a0a0a"/>
<circle cx="358.8" cy="1016.3" r="2.25" fill="#0a0a0a"/>
<circle cx="364.0" cy="1014.4" r="2.25" fill="#0a0a0a"/>
<circle cx="369.2" cy="1011.5" r="2.25" fill="#0a0a0a"/>
<circle cx="374.0" cy="1010.6" r="2.25" fill="#0a0a0a"/>
<circle cx="378.3" cy="1007.8" r="2.25" fill="#0a0a0a"/>
<circle cx="389.2" cy="1003.7" r="2.25" fill="#0a0a0a"/>
<circle cx="402.3" cy="998.5" r="2.25" fill="#0a0a0a"/>
<circle cx="412.5" cy="995.5" r="2.25" fill="#0a0a0a"/>
<circle cx="422.0" cy="991.0" r="2.25" fill="#0a0a0a"/>
<circle cx="431.9" cy="986.9" r="2.25" fill="#0a0a0a"/>
<circle cx="440.5" cy="983.4" r="2.25" fill="#0a0a0a"/>
<circle cx="448.1" cy="978.9" r="2.25" fill="#0a0a0a"/>
<circle cx="454.3" cy="976.2" r="2.25" fill="#0a0a0a"/>
<circle cx="460.2" cy="973.5" r="2.25" fill="#0a0a0a"/>
<circle cx="465.6" cy="970.8" r="2.25" fill="#0a0a0a"/>
<circle cx="471.0" cy="968.6" r="2.25" fill="#0a0a0a"/>
<circle cx="475.5" cy="966.2" r="2.25" fill="#0a0a0a"/>
<circle cx="479.6" cy="964.8" r="2.25" fill="#0a0a0a"/>
<circle cx="483.1" cy="963.5" r="2.25" fill="#0a0a0a"/>
<circle cx="486.6" cy="962.7" r="2.25" fill="#0a0a0a"/>
<circle cx="489.8" cy="961.9" r="2.25" fill="#0a0a0a"/>
<circle cx="493.0" cy="961.3" r="2.25" fill="#0a0a0a"/>
<circle cx="496.5" cy="961.3" r="2.25" fill="#0a0a0a"/>
<rect x="174.1" y="1104.7" width="4.6" height="4.6" fill="#0a0a0a"/>
<rect x="219.2" y="1060.3" width="4.6" height="4.6" fill="#0a0a0a"/>
<rect x="245.0" y="1025.7" width="4.6" height="4.6" fill="#0a0a0a"/>
<rect x="264.4" y="995.6" width="4.6" height="4.6" fill="#0a0a0a"/>
<rect x="278.3" y="972.1" width="4.6" height="4.6" fill="#0a0a0a"/>
<rect x="289.6" y="951.2" width="4.6" height="4.6" fill="#0a0a0a"/>
<rect x="301.9" y="929.2" width="4.6" height="4.6" fill="#0a0a0a"/>
<rect x="308.3" y="913.9" width="4.6" height="4.6" fill="#0a0a0a"/>
<rect x="323.3" y="885.0" width="4.6" height="4.6" fill="#0a0a0a"/>
<rect x="335.2" y="863.9" width="4.6" height="4.6" fill="#0a0a0a"/>
<rect x="344.8" y="841.7" width="4.6" height="4.6" fill="#0a0a0a"/>
<rect x="353.1" y="825.8" width="4.6" height="4.6" fill="#0a0a0a"/>
<rect x="361.0" y="810.8" width="4.6" height="4.6" fill="#0a0a0a"/>
<rect x="367.3" y="801.7" width="4.6" height="4.6" fill="#0a0a0a"/>
<rect x="374.0" y="792.7" width="4.6" height="4.6" fill="#0a0a0a"/>
<rect x="379.6" y="782.3" width="4.6" height="4.6" fill="#0a0a0a"/>
<rect x="384.2" y="778.9" width="4.6" height="4.6" fill="#0a0a0a"/>
<rect x="389.4" y="772.9" width="4.6" height="4.6" fill="#0a0a0a"/>
<rect x="393.3" y="769.0" width="4.6" height="4.6" fill="#0a0a0a"/>
<rect x="397.1" y="766.2" width="4.6" height="4.6" fill="#0a0a0a"/>
<rect x="401.0" y="764.2" width="4.6" height="4.6" fill="#0a0a0a"/>
<rect x="404.8" y="762.9" width="4.6" height="4.6" fill="#0a0a0a"/>
<rect x="408.7" y="761.9" width="4.6" height="4.6" fill="#0a0a0a"/>
<rect x="412.1" y="761.4" width="4.6" height="4.6" fill="#0a0a0a"/>
<circle cx="90.3" cy="653.0" r="2.6" fill="#0a0a0a"/>
<circle cx="89.6" cy="674.6" r="2.1" fill="none" stroke="#0a0a0a" stroke-width="1.15"/>
<polygon points="89.6,691.8 87.3,696.6 91.9,696.6" fill="#0a0a0a"/>
<polygon points="88.6,711.0 86.5,715.4 90.7,715.4" fill="none" stroke="#0a0a0a" stroke-width="1.1" stroke-linejoin="miter"/>
<rect x="87.6" y="730.3" width="4.4" height="4.4" fill="#0a0a0a"/>
<line x1="65.50" y1="752.50" x2="110.00" y2="752.50" stroke="#0a0a0a" stroke-width="1.3" />
<line x1="65.50" y1="773.00" x2="84.50" y2="773.00" stroke="#0a0a0a" stroke-width="1.4" />
<line x1="93.30" y1="773.00" x2="98.00" y2="773.00" stroke="#0a0a0a" stroke-width="1.4" />
<line x1="106.30" y1="773.00" x2="111.30" y2="773.00" stroke="#0a0a0a" stroke-width="1.4" />
<text x="117.5" y="657.5" font-family="'Liberation Serif',serif" font-size="15.3" fill="#0a0a0a" stroke="#0a0a0a" stroke-width="0.3" textLength="35.5" lengthAdjust="spacing">water</text>
<text x="183.9" y="678.6" font-family="'Liberation Serif',serif" font-size="15.3" text-anchor="end" fill="#0a0a0a" stroke="#0a0a0a" stroke-width="0.3">1.26 ppm (</text>
<text x="185.2" y="678.6" font-family="'Liberation Serif',serif" font-size="15.3" font-style="italic" text-anchor="start" fill="#0a0a0a" stroke="#0a0a0a" stroke-width="0.3">c</text>
<text x="193.6" y="681.8000000000001" font-family="'Liberation Serif',serif" font-size="10.5" font-style="italic" text-anchor="start" fill="#0a0a0a" stroke="#0a0a0a" stroke-width="0.3">i</text>
<text x="199.8" y="678.6" font-family="'Liberation Serif',serif" font-size="15.3" text-anchor="start" fill="#0a0a0a" stroke="#0a0a0a" stroke-width="0.3">=</text>
<text x="211.5" y="678.6" font-family="'Liberation Serif',serif" font-size="15.3" textLength="61.6" lengthAdjust="spacingAndGlyphs" text-anchor="start" fill="#0a0a0a" stroke="#0a0a0a" stroke-width="0.3">200 ppm)</text>
<text x="276.5" y="678.6" font-family="'Liberation Serif',serif" font-size="15.3" text-anchor="start" fill="#0a0a0a" stroke="#0a0a0a" stroke-width="0.3">-</text>
<text x="282.5" y="678.6" font-family="'Liberation Serif',serif" font-size="15.3" text-anchor="start" fill="#0a0a0a" stroke="#0a0a0a" stroke-width="0.3">%</text>
<text x="296.2" y="678.6" font-family="'Liberation Serif',serif" font-size="15.3" textLength="25.2" lengthAdjust="spacingAndGlyphs" text-anchor="start" fill="#0a0a0a" stroke="#0a0a0a" stroke-width="0.3">DR</text>
<text x="322.5" y="678.6" font-family="'Liberation Serif',serif" font-size="15.3" text-anchor="start" fill="#0a0a0a" stroke="#0a0a0a" stroke-width="0.3">=</text>
<text x="334.8" y="678.6" font-family="'Liberation Serif',serif" font-size="15.3" textLength="14.8" lengthAdjust="spacingAndGlyphs" text-anchor="start" fill="#0a0a0a" stroke="#0a0a0a" stroke-width="0.3">38</text>
<text x="166.1" y="698.6" font-family="'Liberation Serif',serif" font-size="15.3" text-anchor="end" fill="#0a0a0a" stroke="#0a0a0a" stroke-width="0.3">3 ppm (</text>
<text x="167.4" y="698.6" font-family="'Liberation Serif',serif" font-size="15.3" font-style="italic" text-anchor="start" fill="#0a0a0a" stroke="#0a0a0a" stroke-width="0.3">c</text>
<text x="175.8" y="701.8000000000001" font-family="'Liberation Serif',serif" font-size="10.5" font-style="italic" text-anchor="start" fill="#0a0a0a" stroke="#0a0a0a" stroke-width="0.3">i</text>
<text x="182.0" y="698.6" font-family="'Liberation Serif',serif" font-size="15.3" text-anchor="start" fill="#0a0a0a" stroke="#0a0a0a" stroke-width="0.3">=</text>
<text x="193.7" y="698.6" font-family="'Liberation Serif',serif" font-size="15.3" textLength="61.6" lengthAdjust="spacingAndGlyphs" text-anchor="start" fill="#0a0a0a" stroke="#0a0a0a" stroke-width="0.3">500 ppm)</text>
<text x="258.7" y="698.6" font-family="'Liberation Serif',serif" font-size="15.3" text-anchor="start" fill="#0a0a0a" stroke="#0a0a0a" stroke-width="0.3">-</text>
<text x="264.7" y="698.6" font-family="'Liberation Serif',serif" font-size="15.3" text-anchor="start" fill="#0a0a0a" stroke="#0a0a0a" stroke-width="0.3">%</text>
<text x="278.4" y="698.6" font-family="'Liberation Serif',serif" font-size="15.3" textLength="25.2" lengthAdjust="spacingAndGlyphs" text-anchor="start" fill="#0a0a0a" stroke="#0a0a0a" stroke-width="0.3">DR</text>
<text x="304.7" y="698.6" font-family="'Liberation Serif',serif" font-size="15.3" text-anchor="start" fill="#0a0a0a" stroke="#0a0a0a" stroke-width="0.3">=</text>
<text x="317.0" y="698.6" font-family="'Liberation Serif',serif" font-size="15.3" textLength="14.8" lengthAdjust="spacingAndGlyphs" text-anchor="start" fill="#0a0a0a" stroke="#0a0a0a" stroke-width="0.3">55</text>
<text x="173.4" y="718.0" font-family="'Liberation Serif',serif" font-size="15.3" text-anchor="end" fill="#0a0a0a" stroke="#0a0a0a" stroke-width="0.3">13 ppm (</text>
<text x="174.7" y="718.0" font-family="'Liberation Serif',serif" font-size="15.3" font-style="italic" text-anchor="start" fill="#0a0a0a" stroke="#0a0a0a" stroke-width="0.3">c</text>
<text x="183.1" y="721.2" font-family="'Liberation Serif',serif" font-size="10.5" font-style="italic" text-anchor="start" fill="#0a0a0a" stroke="#0a0a0a" stroke-width="0.3">i</text>
<text x="189.3" y="718.0" font-family="'Liberation Serif',serif" font-size="15.3" text-anchor="start" fill="#0a0a0a" stroke="#0a0a0a" stroke-width="0.3">=</text>
<text x="201.0" y="718.0" font-family="'Liberation Serif',serif" font-size="15.3" textLength="61.6" lengthAdjust="spacingAndGlyphs" text-anchor="start" fill="#0a0a0a" stroke="#0a0a0a" stroke-width="0.3">500 ppm)</text>
<text x="266.0" y="718.0" font-family="'Liberation Serif',serif" font-size="15.3" text-anchor="start" fill="#0a0a0a" stroke="#0a0a0a" stroke-width="0.3">-</text>
<text x="272.0" y="718.0" font-family="'Liberation Serif',serif" font-size="15.3" text-anchor="start" fill="#0a0a0a" stroke="#0a0a0a" stroke-width="0.3">%</text>
<text x="285.7" y="718.0" font-family="'Liberation Serif',serif" font-size="15.3" textLength="25.2" lengthAdjust="spacingAndGlyphs" text-anchor="start" fill="#0a0a0a" stroke="#0a0a0a" stroke-width="0.3">DR</text>
<text x="312.0" y="718.0" font-family="'Liberation Serif',serif" font-size="15.3" text-anchor="start" fill="#0a0a0a" stroke="#0a0a0a" stroke-width="0.3">=</text>
<text x="324.3" y="718.0" font-family="'Liberation Serif',serif" font-size="15.3" textLength="14.8" lengthAdjust="spacingAndGlyphs" text-anchor="start" fill="#0a0a0a" stroke="#0a0a0a" stroke-width="0.3">64</text>
<text x="173.9" y="737.5" font-family="'Liberation Serif',serif" font-size="15.3" text-anchor="end" fill="#0a0a0a" stroke="#0a0a0a" stroke-width="0.3">50 ppm (</text>
<text x="175.2" y="737.5" font-family="'Liberation Serif',serif" font-size="15.3" font-style="italic" text-anchor="start" fill="#0a0a0a" stroke="#0a0a0a" stroke-width="0.3">c</text>
<text x="183.6" y="740.7" font-family="'Liberation Serif',serif" font-size="10.5" font-style="italic" text-anchor="start" fill="#0a0a0a" stroke="#0a0a0a" stroke-width="0.3">i</text>
<text x="189.8" y="737.5" font-family="'Liberation Serif',serif" font-size="15.3" text-anchor="start" fill="#0a0a0a" stroke="#0a0a0a" stroke-width="0.3">=</text>
<text x="201.5" y="737.5" font-family="'Liberation Serif',serif" font-size="15.3" textLength="61.6" lengthAdjust="spacingAndGlyphs" text-anchor="start" fill="#0a0a0a" stroke="#0a0a0a" stroke-width="0.3">500 ppm)</text>
<text x="266.5" y="737.5" font-family="'Liberation Serif',serif" font-size="15.3" text-anchor="start" fill="#0a0a0a" stroke="#0a0a0a" stroke-width="0.3">-</text>
<text x="272.5" y="737.5" font-family="'Liberation Serif',serif" font-size="15.3" text-anchor="start" fill="#0a0a0a" stroke="#0a0a0a" stroke-width="0.3">%</text>
<text x="286.2" y="737.5" font-family="'Liberation Serif',serif" font-size="15.3" textLength="25.2" lengthAdjust="spacingAndGlyphs" text-anchor="start" fill="#0a0a0a" stroke="#0a0a0a" stroke-width="0.3">DR</text>
<text x="312.5" y="737.5" font-family="'Liberation Serif',serif" font-size="15.3" text-anchor="start" fill="#0a0a0a" stroke="#0a0a0a" stroke-width="0.3">=</text>
<text x="324.8" y="737.5" font-family="'Liberation Serif',serif" font-size="15.3" textLength="14.8" lengthAdjust="spacingAndGlyphs" text-anchor="start" fill="#0a0a0a" stroke="#0a0a0a" stroke-width="0.3">69</text>
<text x="117" y="756.4" font-family="'Liberation Serif',serif" font-size="16.5" fill="#0a0a0a" stroke="#0a0a0a" stroke-width="0.3">y<tspan dy="-5.5" dx="0.3" font-size="11.5">+</tspan><tspan dy="5.5" dx="0.3">=U</tspan><tspan dy="-5.5" dx="0.3" font-size="11.5">+</tspan></text>
<text x="117.5" y="777.0" font-family="'Liberation Serif',serif" font-size="15.3" fill="#0a0a0a" stroke="#0a0a0a" stroke-width="0.3" textLength="111" lengthAdjust="spacing">Virk’s asymptote</text>
<text x="427.60" y="1127.20" font-family="'DejaVu Sans','Liberation Sans',sans-serif" font-size="40.5" text-anchor="start" fill="#0a0a0a" stroke="#0a0a0a" stroke-width="0"  >(b)</text>
</svg>
</body></html>
